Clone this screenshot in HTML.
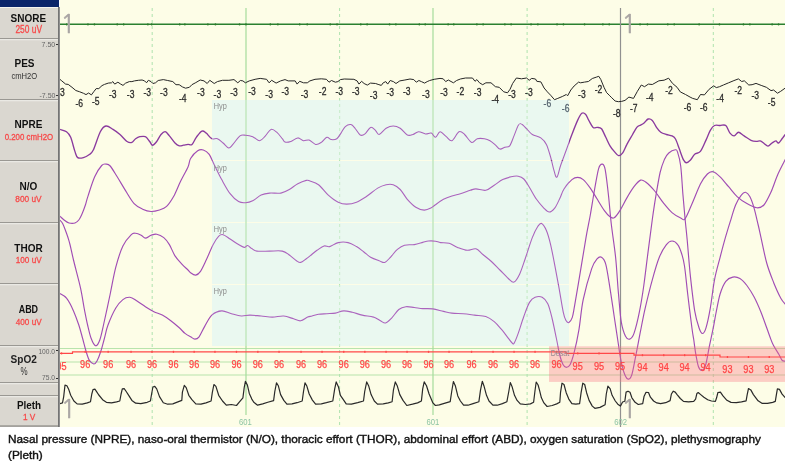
<!DOCTYPE html>
<html><head><meta charset="utf-8"><title>PSG</title><style>
html,body{margin:0;padding:0;background:#fff;}
body{width:785px;height:461px;overflow:hidden;position:relative;font-family:"Liberation Sans",Arial,sans-serif;}
svg{position:absolute;left:0;top:0;}
.cap{position:absolute;left:8px;top:432px;-webkit-text-stroke:0.4px #111;width:780px;font-family:"Liberation Sans",Arial,sans-serif;font-size:11.8px;line-height:15.5px;color:#111;white-space:nowrap;}
.cap span{display:block;}
</style></head><body>
<svg width="785" height="461" viewBox="0 0 785 461">
<defs><clipPath id="ch"><rect x="60" y="0" width="725" height="427"/></clipPath>
<clipPath id="hin"><rect x="212" y="100" width="357" height="60"/><rect x="212" y="161" width="357" height="61"/><rect x="212" y="223" width="357" height="61"/><rect x="212" y="285" width="357" height="61"/></clipPath>
<clipPath id="hout"><path clip-rule="evenodd" d="M60,0H785V427H60Z M212,100H569V160H212Z M212,161H569V222H212Z M212,223H569V284H212Z M212,285H569V346H212Z"/></clipPath>
</defs>
<rect x="0" y="0" width="58" height="426" fill="#dad7d0"/>
<rect x="0" y="0" width="59" height="7" fill="#0a246a"/>
<rect x="0" y="7" width="58" height="1" fill="#f4f3ef"/>
<rect x="0" y="38" width="58" height="1.2" fill="#9a9893"/>
<rect x="0" y="39.2" width="58" height="1" fill="#f2f1ed"/>
<rect x="0" y="99" width="58" height="1.2" fill="#9a9893"/>
<rect x="0" y="100.2" width="58" height="1" fill="#f2f1ed"/>
<rect x="0" y="160" width="58" height="1.2" fill="#9a9893"/>
<rect x="0" y="161.2" width="58" height="1" fill="#f2f1ed"/>
<rect x="0" y="222" width="58" height="1.2" fill="#9a9893"/>
<rect x="0" y="223.2" width="58" height="1" fill="#f2f1ed"/>
<rect x="0" y="283" width="58" height="1.2" fill="#9a9893"/>
<rect x="0" y="284.2" width="58" height="1" fill="#f2f1ed"/>
<rect x="0" y="345" width="58" height="1.2" fill="#9a9893"/>
<rect x="0" y="346.2" width="58" height="1" fill="#f2f1ed"/>
<rect x="0" y="382" width="58" height="1.2" fill="#9a9893"/>
<rect x="0" y="383.2" width="58" height="1" fill="#f2f1ed"/>
<rect x="0" y="395" width="58" height="1.2" fill="#9a9893"/>
<rect x="0" y="396.2" width="58" height="1" fill="#f2f1ed"/>
<rect x="0" y="425.4" width="58" height="1.4" fill="#8e8c87"/>
<rect x="58" y="7" width="1.8" height="420" fill="#747474"/>
<text x="28.4" y="21.7" font-size="10" font-weight="bold" fill="#111" text-anchor="middle">SNORE</text>
<text x="28.7" y="33.4" font-size="10.5" font-weight="normal" fill="#f84848" text-anchor="middle" textLength="26.6" lengthAdjust="spacingAndGlyphs" stroke="#f84848" stroke-width="0.3">250 uV</text>
<text x="24.5" y="67.4" font-size="10" font-weight="bold" fill="#111" text-anchor="middle">PES</text>
<text x="24.3" y="78.9" font-size="9" font-weight="normal" fill="#333" text-anchor="middle" textLength="25.8" lengthAdjust="spacingAndGlyphs">cmH2O</text>
<text x="55.2" y="47" font-size="8" font-weight="normal" fill="#666" text-anchor="end" textLength="13.6" lengthAdjust="spacingAndGlyphs">7.50</text>
<text x="55.5" y="97.6" font-size="8" font-weight="normal" fill="#666" text-anchor="end" textLength="16" lengthAdjust="spacingAndGlyphs">-7.50</text>
<text x="28.5" y="128.2" font-size="10" font-weight="bold" fill="#111" text-anchor="middle">NPRE</text>
<text x="28.9" y="140.2" font-size="9.5" font-weight="normal" fill="#f84848" text-anchor="middle" textLength="48.5" lengthAdjust="spacingAndGlyphs" stroke="#f84848" stroke-width="0.3">0.200 cmH2O</text>
<text x="28.3" y="190.2" font-size="10" font-weight="bold" fill="#111" text-anchor="middle">N/O</text>
<text x="28.5" y="201.6" font-size="9.5" font-weight="normal" fill="#f84848" text-anchor="middle" textLength="26.3" lengthAdjust="spacingAndGlyphs" stroke="#f84848" stroke-width="0.3">800 uV</text>
<text x="28.5" y="251.5" font-size="10" font-weight="bold" fill="#111" text-anchor="middle">THOR</text>
<text x="28.7" y="263.2" font-size="9.5" font-weight="normal" fill="#f84848" text-anchor="middle" textLength="25.9" lengthAdjust="spacingAndGlyphs" stroke="#f84848" stroke-width="0.3">100 uV</text>
<text x="28.4" y="313.1" font-size="10" font-weight="bold" fill="#111" text-anchor="middle" textLength="19.4" lengthAdjust="spacingAndGlyphs">ABD</text>
<text x="28.7" y="324.9" font-size="9.5" font-weight="normal" fill="#f84848" text-anchor="middle" textLength="25.9" lengthAdjust="spacingAndGlyphs" stroke="#f84848" stroke-width="0.3">400 uV</text>
<text x="23.7" y="362.6" font-size="10.5" font-weight="bold" fill="#222" text-anchor="middle" textLength="26.3" lengthAdjust="spacingAndGlyphs">SpO2</text>
<text x="24" y="374.6" font-size="10" font-weight="normal" fill="#333" text-anchor="middle" textLength="7.1" lengthAdjust="spacingAndGlyphs">%</text>
<text x="55" y="354" font-size="8" font-weight="normal" fill="#666" text-anchor="end" textLength="16.6" lengthAdjust="spacingAndGlyphs">100.0</text>
<text x="55" y="380" font-size="8" font-weight="normal" fill="#666" text-anchor="end" textLength="13" lengthAdjust="spacingAndGlyphs">75.0</text>
<text x="29" y="408.7" font-size="10" font-weight="bold" fill="#111" text-anchor="middle" textLength="24.2" lengthAdjust="spacingAndGlyphs">Pleth</text>
<text x="29.1" y="420.3" font-size="9.5" font-weight="normal" fill="#f84848" text-anchor="middle" textLength="12.4" lengthAdjust="spacingAndGlyphs" stroke="#f84848" stroke-width="0.3">1 V</text>
<rect x="56" y="44" width="2" height="1" fill="#333"/>
<rect x="56" y="95" width="2" height="1" fill="#333"/>
<rect x="56" y="350" width="2" height="1" fill="#333"/>
<rect x="56" y="378" width="2" height="1" fill="#333"/>
<g clip-path="url(#ch)">
<rect x="60" y="0" width="725" height="427" fill="#fdfde7"/>
<rect x="212" y="100" width="357" height="60" fill="#eaf8f0"/>
<rect x="212" y="161" width="357" height="61" fill="#eaf8f0"/>
<rect x="212" y="223" width="357" height="61" fill="#eaf8f0"/>
<rect x="212" y="285" width="357" height="61" fill="#eaf8f0"/>
<rect x="60" y="348" width="725" height="1" fill="#b8e4ac"/>
<rect x="60" y="361.5" width="725" height="1" fill="#b8e4ac"/>
<rect x="60" y="374.5" width="725" height="1" fill="#b8e4ac"/>
<line x1="152.2" y1="8" x2="152.2" y2="426" stroke="#aee3ae" stroke-width="1" stroke-dasharray="3,3"/>
<line x1="339.6" y1="8" x2="339.6" y2="426" stroke="#aee3ae" stroke-width="1" stroke-dasharray="3,3"/>
<line x1="339.6" y1="100" x2="339.6" y2="160" stroke="#eaf8f0" stroke-opacity="0.45" stroke-width="1.2"/>
<line x1="339.6" y1="161" x2="339.6" y2="222" stroke="#eaf8f0" stroke-opacity="0.45" stroke-width="1.2"/>
<line x1="339.6" y1="223" x2="339.6" y2="284" stroke="#eaf8f0" stroke-opacity="0.45" stroke-width="1.2"/>
<line x1="339.6" y1="285" x2="339.6" y2="346" stroke="#eaf8f0" stroke-opacity="0.45" stroke-width="1.2"/>
<line x1="527.1" y1="8" x2="527.1" y2="426" stroke="#aee3ae" stroke-width="1" stroke-dasharray="3,3"/>
<line x1="527.1" y1="100" x2="527.1" y2="160" stroke="#eaf8f0" stroke-opacity="0.45" stroke-width="1.2"/>
<line x1="527.1" y1="161" x2="527.1" y2="222" stroke="#eaf8f0" stroke-opacity="0.45" stroke-width="1.2"/>
<line x1="527.1" y1="223" x2="527.1" y2="284" stroke="#eaf8f0" stroke-opacity="0.45" stroke-width="1.2"/>
<line x1="527.1" y1="285" x2="527.1" y2="346" stroke="#eaf8f0" stroke-opacity="0.45" stroke-width="1.2"/>
<line x1="713.3" y1="8" x2="713.3" y2="426" stroke="#aee3ae" stroke-width="1" stroke-dasharray="3,3"/>
<line x1="246" y1="8" x2="246" y2="415" stroke="#a6dc9c" stroke-width="1.2"/>
<line x1="246" y1="100" x2="246" y2="346" stroke="#d4f0d4" stroke-width="1.2"/>
<line x1="433" y1="8" x2="433" y2="415" stroke="#a6dc9c" stroke-width="1.2"/>
<line x1="433" y1="100" x2="433" y2="346" stroke="#d4f0d4" stroke-width="1.2"/>
<line x1="60" y1="24.3" x2="785" y2="24.3" stroke="#2a8030" stroke-width="1.5"/>
<rect x="66" y="23.4" width="1.3" height="2" fill="#2a7a2a"/>
<rect x="87.3" y="23.4" width="1.3" height="2" fill="#2a7a2a"/>
<rect x="93.8" y="23.4" width="1.3" height="2" fill="#2a7a2a"/>
<rect x="116.6" y="23.4" width="1.3" height="2" fill="#2a7a2a"/>
<rect x="123" y="23.4" width="1.3" height="2" fill="#2a7a2a"/>
<rect x="147.2" y="23.4" width="1.3" height="2" fill="#2a7a2a"/>
<rect x="151" y="23.4" width="1.3" height="2" fill="#2a7a2a"/>
<rect x="179" y="23.4" width="1.3" height="2" fill="#2a7a2a"/>
<rect x="184.2" y="23.4" width="1.3" height="2" fill="#2a7a2a"/>
<rect x="207.2" y="23.4" width="1.3" height="2" fill="#2a7a2a"/>
<rect x="214.8" y="23.4" width="1.3" height="2" fill="#2a7a2a"/>
<rect x="238.9" y="23.4" width="1.3" height="2" fill="#2a7a2a"/>
<rect x="245.3" y="23.4" width="1.3" height="2" fill="#2a7a2a"/>
<rect x="269.7" y="23.4" width="1.3" height="2" fill="#2a7a2a"/>
<rect x="277.2" y="23.4" width="1.3" height="2" fill="#2a7a2a"/>
<rect x="299" y="23.4" width="1.3" height="2" fill="#2a7a2a"/>
<rect x="306.6" y="23.4" width="1.3" height="2" fill="#2a7a2a"/>
<rect x="329.6" y="23.4" width="1.3" height="2" fill="#2a7a2a"/>
<rect x="336.4" y="23.4" width="1.3" height="2" fill="#2a7a2a"/>
<rect x="360.1" y="23.4" width="1.3" height="2" fill="#2a7a2a"/>
<rect x="366.5" y="23.4" width="1.3" height="2" fill="#2a7a2a"/>
<rect x="388.9" y="23.4" width="1.3" height="2" fill="#2a7a2a"/>
<rect x="395.2" y="23.4" width="1.3" height="2" fill="#2a7a2a"/>
<rect x="418.7" y="23.4" width="1.3" height="2" fill="#2a7a2a"/>
<rect x="424.6" y="23.4" width="1.3" height="2" fill="#2a7a2a"/>
<rect x="447.5" y="23.4" width="1.3" height="2" fill="#2a7a2a"/>
<rect x="453.1" y="23.4" width="1.3" height="2" fill="#2a7a2a"/>
<rect x="476.2" y="23.4" width="1.3" height="2" fill="#2a7a2a"/>
<rect x="482.5" y="23.4" width="1.3" height="2" fill="#2a7a2a"/>
<rect x="504.2" y="23.4" width="1.3" height="2" fill="#2a7a2a"/>
<rect x="510.5" y="23.4" width="1.3" height="2" fill="#2a7a2a"/>
<rect x="530.4" y="23.4" width="1.3" height="2" fill="#2a7a2a"/>
<rect x="537.2" y="23.4" width="1.3" height="2" fill="#2a7a2a"/>
<rect x="556.4" y="23.4" width="1.3" height="2" fill="#2a7a2a"/>
<rect x="562.8" y="23.4" width="1.3" height="2" fill="#2a7a2a"/>
<rect x="583.9" y="23.4" width="1.3" height="2" fill="#2a7a2a"/>
<rect x="602.2" y="23.4" width="1.3" height="2" fill="#2a7a2a"/>
<rect x="608.6" y="23.4" width="1.3" height="2" fill="#2a7a2a"/>
<rect x="639.4" y="23.4" width="1.3" height="2" fill="#2a7a2a"/>
<rect x="646.8" y="23.4" width="1.3" height="2" fill="#2a7a2a"/>
<rect x="667.1" y="23.4" width="1.3" height="2" fill="#2a7a2a"/>
<rect x="673.6" y="23.4" width="1.3" height="2" fill="#2a7a2a"/>
<rect x="698.5" y="23.4" width="1.3" height="2" fill="#2a7a2a"/>
<rect x="718.8" y="23.4" width="1.3" height="2" fill="#2a7a2a"/>
<rect x="742.8" y="23.4" width="1.3" height="2" fill="#2a7a2a"/>
<rect x="749.2" y="23.4" width="1.3" height="2" fill="#2a7a2a"/>
<rect x="771.5" y="23.4" width="1.3" height="2" fill="#2a7a2a"/>
<rect x="777.9" y="23.4" width="1.3" height="2" fill="#2a7a2a"/>
<text x="68.2" y="32.6" font-family="NanumGothic, 'Liberation Sans', sans-serif" font-size="25" font-weight="normal" fill="#aaa6a4" stroke="#aaa6a4" stroke-width="0.5" text-anchor="middle">1</text>
<text x="629.2" y="32.8" font-family="NanumGothic, 'Liberation Sans', sans-serif" font-size="25" font-weight="normal" fill="#aaa6a4" stroke="#aaa6a4" stroke-width="0.5" text-anchor="middle">1</text>
<text x="68.4" y="418" font-family="NanumGothic, 'Liberation Sans', sans-serif" font-size="25" font-weight="normal" fill="#aaa6a4" stroke="#aaa6a4" stroke-width="0.5" text-anchor="middle">1</text>
<text x="629" y="417.7" font-family="NanumGothic, 'Liberation Sans', sans-serif" font-size="25" font-weight="normal" fill="#aaa6a4" stroke="#aaa6a4" stroke-width="0.5" text-anchor="middle">1</text>
<line x1="620.5" y1="8" x2="620.5" y2="427" stroke="#909090" stroke-width="1.2"/>
<polyline points="59.9,79.3 61.8,80.9 65.6,84.1 68.2,84.4 72,87.3 75.8,90.5 79.7,91.8 83.5,93.3 86,94.6 88.6,93 91.4,94.9 93.7,91.8 96.2,88.6 98.8,88.6 102,85.6 104.5,84.4 108.3,83.1 111.5,82.8 112.8,81.6 114.7,84.1 117.9,82.2 120.4,83.9 123,85.4 125.5,83.2 129.3,81.6 131.9,81.6 134.4,80.9 138.3,80.3 142.1,80 144.6,80.9 146.5,82.8 148.4,80.3 151,81.6 152.9,83.5 155.5,82.8 158.2,80.5 163.3,79.6 167.7,80.5 172.8,81.6 176,84.7 179.2,84.7 182.4,86.9 185.6,88.2 189.4,87.3 191.9,84.7 195.8,82.6 200.2,80 204,80.9 207.2,83.5 209.8,80.3 214.2,83.5 217.4,81.6 222.5,80.3 228.9,80.3 234,79.6 237.8,82.8 240.4,80.5 242.9,80.9 245.4,82.8 249.3,80.9 255.1,79.3 260.2,78.4 266.6,79.3 269.1,82.8 271.7,80.3 276.1,83.1 280.6,80.9 285,79.6 288.2,80.9 295.2,80.9 297.1,84.1 299.7,81.3 303.5,82.8 307.3,82.8 309.9,80.9 315,79.3 321.3,78.8 326.4,79.3 329,82.2 331.5,80.5 335.4,82.2 337.9,81.6 340.4,79.6 344.3,79 353.9,79.3 357.1,80.9 359,84.1 361.6,81.3 364.1,83.5 367.3,85.1 370.5,83.1 375.6,83.5 378.1,84.4 381.3,85.4 383.2,82.8 385.8,81.6 387.7,84.1 390.2,80.5 393.4,81.6 396,83.5 399.8,80.9 404.9,80 410,79 413.8,79.6 416.3,82.2 418.9,80.5 421.4,81.6 424.6,83.1 427.2,81.6 429.7,80.5 434.2,79.3 440,78.4 443.2,78.8 445.7,81.6 448.3,80 453.4,82.8 456.6,80.5 460.4,79 465.5,78 472.5,78 475,81.3 476.9,79.6 479.5,82.8 482.7,84.7 485.9,82.8 491,82.8 495.4,86.7 499.2,87.3 503.7,91.8 507.5,92.8 510.1,89.2 512.6,83.5 516.4,78 521.5,78.8 526.6,78 529.2,80.3 531.7,78.4 535.5,79 536.8,81.3 540.9,81.9 544.1,88 547.4,91.9 550.6,95.2 554.5,99.7 557.8,98.4 562.3,96.5 566.3,94.5 567.6,95.8 570.8,90 574.1,86 578.6,82.1 580.6,82.8 584.5,82.1 588.4,81.5 592.3,78.5 596.2,77.2 598.8,76.3 600.8,79.5 604,87.3 606.6,92.6 609.2,95.2 611.8,97.8 615.1,101 618.3,101.7 621.6,101.4 625,100.4 628.9,97.1 633.5,98.4 637.4,91.3 641.3,85 644.5,86.7 648.4,84.1 652.3,84.5 658.9,80.8 664.1,80.2 668.6,78.2 672.5,83.4 677.1,87.3 680.3,91.9 685.5,94.5 690.1,97.1 692.7,98.4 697.3,99.7 700.5,94.5 704.4,94.9 709.1,89.3 713.7,85.8 716.3,87.6 719.5,86.7 723.4,85 728.6,82.8 733.9,80.6 738.4,78.9 741.7,81.5 744.3,80.8 748.8,85 752.1,84.7 756,83.4 761.2,85.4 766.4,87.3 771,90.6 773.6,90 777.5,93.2 780.7,91.3 786,87.5" fill="none" stroke="#262626" stroke-width="1" stroke-linejoin="round"/>
<text x="61" y="95.7" font-size="10.5" fill="#2a2a2a" stroke="#2a2a2a" stroke-width="0.3" text-anchor="middle" textLength="7.6" lengthAdjust="spacingAndGlyphs">-3</text>
<text x="79.3" y="106.5" font-size="10.5" fill="#2a2a2a" stroke="#2a2a2a" stroke-width="0.3" text-anchor="middle" textLength="7.6" lengthAdjust="spacingAndGlyphs">-6</text>
<text x="95.8" y="105.2" font-size="10.5" fill="#2a2a2a" stroke="#2a2a2a" stroke-width="0.3" text-anchor="middle" textLength="7.6" lengthAdjust="spacingAndGlyphs">-5</text>
<text x="112.8" y="98.2" font-size="10.5" fill="#2a2a2a" stroke="#2a2a2a" stroke-width="0.3" text-anchor="middle" textLength="7.6" lengthAdjust="spacingAndGlyphs">-3</text>
<text x="130.6" y="97.5" font-size="10.5" fill="#2a2a2a" stroke="#2a2a2a" stroke-width="0.3" text-anchor="middle" textLength="7.6" lengthAdjust="spacingAndGlyphs">-3</text>
<text x="147.2" y="96.3" font-size="10.5" fill="#2a2a2a" stroke="#2a2a2a" stroke-width="0.3" text-anchor="middle" textLength="7.6" lengthAdjust="spacingAndGlyphs">-3</text>
<text x="163.9" y="96.3" font-size="10.5" fill="#2a2a2a" stroke="#2a2a2a" stroke-width="0.3" text-anchor="middle" textLength="7.6" lengthAdjust="spacingAndGlyphs">-3</text>
<text x="182.7" y="102" font-size="10.5" fill="#2a2a2a" stroke="#2a2a2a" stroke-width="0.3" text-anchor="middle" textLength="7.6" lengthAdjust="spacingAndGlyphs">-4</text>
<text x="200.9" y="95.6" font-size="10.5" fill="#2a2a2a" stroke="#2a2a2a" stroke-width="0.3" text-anchor="middle" textLength="7.6" lengthAdjust="spacingAndGlyphs">-3</text>
<text x="217.4" y="97.5" font-size="10.5" fill="#2a2a2a" stroke="#2a2a2a" stroke-width="0.3" text-anchor="middle" textLength="7.6" lengthAdjust="spacingAndGlyphs">-3</text>
<text x="234" y="96.3" font-size="10.5" fill="#2a2a2a" stroke="#2a2a2a" stroke-width="0.3" text-anchor="middle" textLength="7.6" lengthAdjust="spacingAndGlyphs">-3</text>
<text x="252" y="95.2" font-size="10.5" fill="#2a2a2a" stroke="#2a2a2a" stroke-width="0.3" text-anchor="middle" textLength="7.6" lengthAdjust="spacingAndGlyphs">-3</text>
<text x="269.1" y="98.2" font-size="10.5" fill="#2a2a2a" stroke="#2a2a2a" stroke-width="0.3" text-anchor="middle" textLength="7.6" lengthAdjust="spacingAndGlyphs">-3</text>
<text x="285.3" y="95.4" font-size="10.5" fill="#2a2a2a" stroke="#2a2a2a" stroke-width="0.3" text-anchor="middle" textLength="7.6" lengthAdjust="spacingAndGlyphs">-3</text>
<text x="304.5" y="98.2" font-size="10.5" fill="#2a2a2a" stroke="#2a2a2a" stroke-width="0.3" text-anchor="middle" textLength="7.6" lengthAdjust="spacingAndGlyphs">-3</text>
<text x="322.6" y="94.6" font-size="10.5" fill="#2a2a2a" stroke="#2a2a2a" stroke-width="0.3" text-anchor="middle" textLength="7.6" lengthAdjust="spacingAndGlyphs">-2</text>
<text x="339.2" y="95.4" font-size="10.5" fill="#2a2a2a" stroke="#2a2a2a" stroke-width="0.3" text-anchor="middle" textLength="7.6" lengthAdjust="spacingAndGlyphs">-3</text>
<text x="355.8" y="95.4" font-size="10.5" fill="#2a2a2a" stroke="#2a2a2a" stroke-width="0.3" text-anchor="middle" textLength="7.6" lengthAdjust="spacingAndGlyphs">-3</text>
<text x="373.6" y="98.8" font-size="10.5" fill="#2a2a2a" stroke="#2a2a2a" stroke-width="0.3" text-anchor="middle" textLength="7.6" lengthAdjust="spacingAndGlyphs">-3</text>
<text x="390.2" y="96.3" font-size="10.5" fill="#2a2a2a" stroke="#2a2a2a" stroke-width="0.3" text-anchor="middle" textLength="7.6" lengthAdjust="spacingAndGlyphs">-3</text>
<text x="406.8" y="95.4" font-size="10.5" fill="#2a2a2a" stroke="#2a2a2a" stroke-width="0.3" text-anchor="middle" textLength="7.6" lengthAdjust="spacingAndGlyphs">-3</text>
<text x="425.9" y="98.2" font-size="10.5" fill="#2a2a2a" stroke="#2a2a2a" stroke-width="0.3" text-anchor="middle" textLength="7.6" lengthAdjust="spacingAndGlyphs">-3</text>
<text x="444" y="95.6" font-size="10.5" fill="#2a2a2a" stroke="#2a2a2a" stroke-width="0.3" text-anchor="middle" textLength="7.6" lengthAdjust="spacingAndGlyphs">-3</text>
<text x="460.4" y="95" font-size="10.5" fill="#2a2a2a" stroke="#2a2a2a" stroke-width="0.3" text-anchor="middle" textLength="7.6" lengthAdjust="spacingAndGlyphs">-2</text>
<text x="477.6" y="95.6" font-size="10.5" fill="#2a2a2a" stroke="#2a2a2a" stroke-width="0.3" text-anchor="middle" textLength="7.6" lengthAdjust="spacingAndGlyphs">-3</text>
<text x="495.2" y="102.6" font-size="10.5" fill="#2a2a2a" stroke="#2a2a2a" stroke-width="0.3" text-anchor="middle" textLength="7.6" lengthAdjust="spacingAndGlyphs">-4</text>
<text x="512" y="98.2" font-size="10.5" fill="#2a2a2a" stroke="#2a2a2a" stroke-width="0.3" text-anchor="middle" textLength="7.6" lengthAdjust="spacingAndGlyphs">-3</text>
<text x="528.9" y="95.6" font-size="10.5" fill="#2a2a2a" stroke="#2a2a2a" stroke-width="0.3" text-anchor="middle" textLength="7.6" lengthAdjust="spacingAndGlyphs">-3</text>
<text x="547.4" y="107.4" font-size="10.5" fill="#55636e" stroke="#55636e" stroke-width="0.3" text-anchor="middle" textLength="7.6" lengthAdjust="spacingAndGlyphs">-6</text>
<text x="565.6" y="112" font-size="10.5" fill="#55636e" stroke="#55636e" stroke-width="0.3" text-anchor="middle" textLength="7.6" lengthAdjust="spacingAndGlyphs">-6</text>
<text x="581.9" y="98.3" font-size="10.5" fill="#2a2a2a" stroke="#2a2a2a" stroke-width="0.3" text-anchor="middle" textLength="7.6" lengthAdjust="spacingAndGlyphs">-3</text>
<text x="598.5" y="93.1" font-size="10.5" fill="#2a2a2a" stroke="#2a2a2a" stroke-width="0.3" text-anchor="middle" textLength="7.6" lengthAdjust="spacingAndGlyphs">-2</text>
<text x="616.7" y="116.5" font-size="10.5" fill="#2a2a2a" stroke="#2a2a2a" stroke-width="0.3" text-anchor="middle" textLength="7.6" lengthAdjust="spacingAndGlyphs">-8</text>
<text x="633.8" y="112" font-size="10.5" fill="#2a2a2a" stroke="#2a2a2a" stroke-width="0.3" text-anchor="middle" textLength="7.6" lengthAdjust="spacingAndGlyphs">-7</text>
<text x="649.7" y="100.9" font-size="10.5" fill="#2a2a2a" stroke="#2a2a2a" stroke-width="0.3" text-anchor="middle" textLength="7.6" lengthAdjust="spacingAndGlyphs">-4</text>
<text x="669" y="94.4" font-size="10.5" fill="#2a2a2a" stroke="#2a2a2a" stroke-width="0.3" text-anchor="middle" textLength="7.6" lengthAdjust="spacingAndGlyphs">-2</text>
<text x="687.5" y="111.3" font-size="10.5" fill="#2a2a2a" stroke="#2a2a2a" stroke-width="0.3" text-anchor="middle" textLength="7.6" lengthAdjust="spacingAndGlyphs">-6</text>
<text x="703.8" y="110.7" font-size="10.5" fill="#2a2a2a" stroke="#2a2a2a" stroke-width="0.3" text-anchor="middle" textLength="7.6" lengthAdjust="spacingAndGlyphs">-6</text>
<text x="720.1" y="101.9" font-size="10.5" fill="#2a2a2a" stroke="#2a2a2a" stroke-width="0.3" text-anchor="middle" textLength="7.6" lengthAdjust="spacingAndGlyphs">-4</text>
<text x="738.2" y="94.4" font-size="10.5" fill="#2a2a2a" stroke="#2a2a2a" stroke-width="0.3" text-anchor="middle" textLength="7.6" lengthAdjust="spacingAndGlyphs">-2</text>
<text x="755.3" y="99" font-size="10.5" fill="#2a2a2a" stroke="#2a2a2a" stroke-width="0.3" text-anchor="middle" textLength="7.6" lengthAdjust="spacingAndGlyphs">-3</text>
<text x="771.6" y="105.5" font-size="10.5" fill="#2a2a2a" stroke="#2a2a2a" stroke-width="0.3" text-anchor="middle" textLength="7.6" lengthAdjust="spacingAndGlyphs">-5</text>
<g clip-path="url(#hout)">
<path d="M60,129.4 C61.1,129.8 64.7,130.4 66.5,131.7 C68.3,133 69.3,134 70.7,137.3 C72.1,140.6 73.7,148 74.9,151.4 C76.1,154.8 76.3,156.6 77.7,157.6 C79.1,158.6 81.5,158.1 83.4,157.6 C85.3,157.1 87.3,156.1 89,154.8 C90.7,153.5 91.4,153.8 93.3,150 C95.2,146.2 98.2,135.7 100.3,131.7 C102.4,127.7 103.9,126.4 106,126 C108.1,125.6 110.7,128 113,129.4 C115.3,130.8 117.7,132.5 120,134.5 C122.3,136.5 125,140.2 127,141.5 C129,142.8 130.5,142.9 131.9,142.4 C133.3,141.9 134.3,139.6 135.6,138.7 C136.9,137.8 138.2,137 139.8,136.7 C141.4,136.4 143.8,135.9 145.4,136.7 C147.1,137.5 148.5,140.1 149.7,141.5 C150.9,142.9 151.3,145.2 152.5,145.2 C153.7,145.2 155.3,143.3 156.7,141.5 C158.1,139.7 159.6,136.1 161,134.5 C162.4,132.9 163.8,131.5 165.2,131.7 C166.6,131.9 167.8,134 169.4,135.9 C171,137.8 173.3,141.3 175,143 C176.7,144.7 177.9,145.4 179.3,145.8 C180.7,146.2 182.1,145.4 183.5,145.2 C184.9,145 186.6,144.5 188,144.4 C189.4,144.3 190.6,145.6 192,144.4 C193.4,143.2 194.7,139.5 196.3,137.3 C198,135.1 200.2,131.8 201.9,131.1 C203.6,130.4 204.5,131.8 206.2,133.1 C207.8,134.4 209.9,137.8 211.8,138.7 C213.7,139.6 215.5,138 217.4,138.7 C219.3,139.4 221.2,141.4 223.1,143 C225,144.6 227.1,147.8 228.7,148 C230.3,148.2 231,146.4 232.9,144.4 C234.8,142.4 237.9,137.4 240,135.9 C242.1,134.4 243.5,135.2 245.6,135.3 C247.7,135.4 250.3,135.8 252.7,136.7 C255,137.6 257.6,140.8 259.7,140.7 C261.8,140.6 263.5,137.8 265.4,135.9 C267.3,134 269.1,130 271,129.4 C272.9,128.8 274.8,130.6 276.7,132.2 C278.6,133.8 280.9,137 282.3,138.7 C283.7,140.3 283.7,141.6 285.1,142.1 C286.5,142.6 288.7,142.2 290.8,141.5 C292.9,140.8 295.7,138 297.8,137.9 C299.9,137.8 301.5,140.3 303.4,140.7 C305.3,141.1 307.1,139.5 309.1,140.1 C311.1,140.7 313.6,144 315.6,144.4 C317.6,144.8 319.4,143.6 321.3,142.4 C323.2,141.2 325.2,137.8 326.9,137.3 C328.5,136.8 329.5,139.4 331.2,139.6 C332.9,139.8 335.2,139.8 336.8,138.7 C338.4,137.6 339.6,135.1 341,133.1 C342.4,131.1 343.7,128 345.3,126.6 C346.9,125.2 349.3,124.3 350.9,124.6 C352.5,124.9 353.6,126.6 355.1,128.3 C356.7,130 358.6,134.1 360.2,135 C361.8,135.9 363.3,135.2 365,133.9 C366.7,132.6 368.9,128 370.6,127.4 C372.3,126.8 374,129.1 375.4,130.3 C376.8,131.5 377.3,134.8 379.1,134.5 C380.9,134.2 383.8,129.7 386.1,128.3 C388.5,126.9 390.9,126 393.2,126 C395.5,126 397.8,126.8 400.2,128.3 C402.6,129.8 405.2,134 407.3,135 C409.4,136 411,135.1 412.9,134.5 C414.8,133.9 416.5,131.8 418.6,131.7 C420.7,131.6 423.5,133.7 425.6,133.9 C427.7,134.1 429.7,132.5 431.3,133.1 C432.9,133.7 434,137.5 435.5,137.3 C437,137.1 438.3,131.8 440.1,131.7 C441.9,131.6 444.3,135.2 446.3,136.7 C448.3,138.2 449.8,141.5 451.9,140.7 C454,139.9 456.9,132.7 459,131.7 C461.1,130.7 462.5,132.7 464.6,134.5 C466.7,136.3 469.6,141.7 471.7,142.4 C473.8,143.1 475.2,139.3 477.3,138.7 C479.4,138.1 482.3,138.4 484.4,138.7 C486.5,139 488.1,139.6 490,140.7 C491.9,141.8 494,143.8 495.6,145.2 C497.2,146.6 498.3,148.8 499.9,149.1 C501.4,149.4 503.3,147.8 504.9,147.2 C506.5,146.6 508.2,147.7 509.7,145.8 C511.2,143.9 512.6,139.3 514,135.9 C515.4,132.5 517,127.5 518.2,125.5 C519.4,123.5 519.6,123.2 521,123.8 C522.4,124.3 524.8,127 526.7,128.8 C528.6,130.6 529.9,133 532.3,134.5 C534.6,136 538.4,136.2 540.8,137.9 C543.1,139.6 544.8,141.2 546.4,144.4 C548,147.6 549.4,153 550.6,157 C551.8,161 552.4,164.9 553.4,168.3 C554.4,171.7 555.6,177.8 556.8,177.3 C558,176.8 559,170.1 560.6,165.5 C562.2,160.9 564.4,155.2 566.3,150 C568.2,144.8 570,139.4 571.9,134.5 C573.8,129.6 576,123.9 577.6,120.4 C579.2,116.9 580.5,114.3 581.8,113.3 C583.1,112.3 584.3,113 585.5,114.2 C586.7,115.4 587.5,118.2 588.8,120.4 C590.1,122.6 591.7,126.2 593.1,127.4 C594.5,128.6 595.9,127.2 597.3,127.4 C598.7,127.6 600.1,127.2 601.5,128.8 C602.9,130.5 604.4,134.5 605.8,137.3 C607.2,140.1 608.6,143.5 610,145.8 C611.4,148.2 612.8,149.8 614.2,151.4 C615.6,153 617.1,155.4 618.5,155.6 C619.9,155.8 621.3,154.7 622.7,152.8 C624.1,150.9 625.2,147.5 626.9,144.4 C628.5,141.3 631,137.3 632.6,134.5 C634.2,131.7 635.6,128.9 636.8,127.4 C638,125.9 638.4,126.2 639.6,125.5 C640.8,124.8 642.4,124.3 643.8,123.2 C645.2,122.1 646.7,119.5 648.1,119 C649.5,118.5 650.9,119 652.3,120.4 C653.7,121.8 655.1,125.4 656.5,127.4 C657.9,129.4 659.1,131 660.8,132.2 C662.4,133.4 664.5,133.9 666.4,134.5 C668.3,135.1 670.5,135.2 672,135.9 C673.5,136.7 674.3,136.9 675.5,139 C676.7,141.1 677.9,145.1 679.2,148.6 C680.5,152.1 682.3,157.6 683.5,159.9 C684.7,162.2 685.1,162.7 686.3,162.7 C687.5,162.7 689.1,161.3 690.5,159.9 C691.9,158.5 693.1,155.6 694.7,154.2 C696.4,152.8 698.5,153.8 700.4,151.4 C702.3,149.1 704.4,143.6 706,140.1 C707.6,136.6 708.9,132.7 710.3,130.3 C711.7,127.9 712.9,126.3 714.5,125.5 C716.1,124.7 718.2,125.5 720.1,125.5 C722,125.5 724.1,124.2 725.8,125.5 C727.4,126.8 728.6,131.4 730,133.1 C731.4,134.8 732.8,136.1 734.2,135.9 C735.6,135.8 736.9,132.2 738.5,132.2 C740.1,132.2 742,134.6 744.1,135.9 C746.2,137.2 749,139.4 751,140.3 C753,141.2 754.8,141.3 756.3,141.4 C757.8,141.5 758.9,140.6 760.2,140.9 C761.5,141.2 762.8,142.6 764.1,143.5 C765.4,144.4 766.7,146.2 768,146.1 C769.3,146 770.7,143.9 772,143 C773.3,142.1 774.8,140.9 775.9,140.9 C777,140.9 777.4,143.4 778.5,143 C779.6,142.6 781.1,139.9 782.4,138.3 C783.6,136.7 785.4,134.3 786,133.5" fill="none" stroke="#8a3a9e" stroke-width="1.35" stroke-linejoin="round"/>
<path d="M59.8,216.1 C60.6,216.8 63.2,219.3 64.7,220.5 C66.2,221.7 67.3,222.6 69,223 C70.7,223.4 73.4,223.5 75,223 C76.6,222.5 77.6,221.5 78.8,220 C80,218.5 80.9,216.4 82,214 C83.1,211.6 84.3,208.3 85.3,205.3 C86.3,202.3 86.4,200.8 88,196.1 C89.6,191.3 92.4,181.9 94.7,176.8 C97,171.7 99.8,167.6 101.7,165.5 C103.6,163.4 104.6,164 106,164.1 C107.4,164.2 108.3,163.9 110.2,166 C112.1,168.1 114.6,172.7 117.2,176.8 C119.8,181 122.9,186.4 125.7,190.9 C128.5,195.4 131.3,200.6 134.1,203.6 C136.9,206.6 139.8,207.9 142.6,209.2 C145.4,210.5 148.2,211.4 151,211.5 C153.8,211.6 156.9,210.8 159.5,210 C162.1,209.2 164.2,208.7 166.6,206.4 C168.9,204.2 171.2,200.7 173.6,196.5 C175.9,192.3 178.3,185.9 180.7,181 C183.1,176.1 186.3,170.7 188,166.9 C189.7,163.2 189,161.2 190.6,158.5 C192.2,155.8 195.6,152.2 197.7,150.8 C199.8,149.4 201.4,149.4 203.3,150 C205.2,150.6 207.1,151.6 209,154.2 C210.9,156.8 212.5,161.3 214.6,165.5 C216.7,169.7 219.1,174.9 221.7,179.6 C224.3,184.3 227.3,190 230.1,193.7 C232.9,197.4 236,200.1 238.6,201.6 C241.2,203.1 243.2,202.8 245.6,202.7 C247.9,202.6 250.1,202.1 252.7,200.8 C255.3,199.5 258.3,196.4 261.1,195.1 C263.9,193.8 266.3,193.4 269.6,193.1 C272.9,192.8 277.6,193.7 280.9,193.1 C284.2,192.5 286.5,191.1 289.3,189.5 C292.1,187.9 295,185.3 297.8,183.8 C300.6,182.3 304.3,180.9 306.3,180.4 C308.3,179.9 308,180.3 310,181 C312,181.7 315.4,182.3 318.5,184.7 C321.6,187 325,192.2 328.3,195.1 C331.6,198 335.1,200.7 338.2,202.2 C341.3,203.7 343.6,204.1 346.7,204.1 C349.8,204.1 353.2,203.5 356.5,202.2 C359.8,200.9 362.9,198.8 366.4,196.5 C369.9,194.2 374.4,190.1 377.7,188.1 C381,186.1 383.5,185.3 386.1,184.7 C388.7,184.1 390.9,183.9 393.2,184.7 C395.5,185.5 397.8,187.1 400.2,189.5 C402.6,191.9 404.7,196.4 407.3,199.3 C409.9,202.2 413,205.4 415.8,207.2 C418.6,209 421.6,210 424.2,210.1 C426.8,210.2 429.5,208.7 431.3,207.8 C433.1,207 433,206.4 435,205 C437,203.6 440.7,200.8 443.5,199.3 C446.3,197.8 449.1,196.9 451.9,196 C454.7,195.1 457.3,194.6 460.4,193.7 C463.5,192.8 467.7,191.1 470.3,190.3 C472.9,189.5 473.3,188.9 475.9,188.9 C478.5,188.9 482.8,190.9 485.8,190.3 C488.9,189.7 491.4,187 494.2,185.2 C497,183.4 499.9,181 502.7,179.6 C505.5,178.2 508.5,177.4 511.1,176.8 C513.7,176.2 516.1,175.8 518.2,176.2 C520.3,176.6 521.9,177.1 523.8,179 C525.7,180.9 527.4,184.1 529.5,187.5 C531.6,190.9 534.1,195.9 536.5,199.3 C538.9,202.7 541.5,205.7 543.6,207.8 C545.7,209.9 547.3,212 549.2,212 C551.1,212 553.1,210.1 554.9,207.8 C556.7,205.5 558.5,201.1 560,198 C561.5,194.9 562,192.1 564,189 C566,185.9 569.6,181.5 571.9,179.6 C574.2,177.7 575.7,177.3 577.6,177.3 C579.5,177.3 581.1,177.8 583.2,179.6 C585.3,181.4 587.9,184.8 590.3,188.1 C592.6,191.4 594.9,195.6 597.3,199.3 C599.6,203.1 602.3,207.7 604.4,210.6 C606.5,213.5 608.4,215.6 610,216.8 C611.6,218 612.6,218.7 614.2,217.7 C615.9,216.7 617.8,213.9 619.9,210.6 C622,207.3 624.5,201.9 626.9,197.9 C629.2,193.9 631.7,189.7 634,186.7 C636.3,183.7 638.6,180.8 640.6,180.1 C642.6,179.4 643.6,180.5 646,182.3 C648.4,184.1 651.8,187.6 654.7,191 C657.6,194.4 660.5,199.3 663.4,202.9 C666.3,206.5 669.1,210.1 672,212.6 C674.9,215.1 678.5,217 680.7,218 C682.9,219 683.2,221 685,218.8 C686.8,216.6 688.9,210.8 691.5,205 C694.1,199.2 697.8,189.2 700.4,184 C703,178.8 705.3,176.1 707.4,174 C709.5,171.9 711,171.2 713.1,171.7 C715.2,172.2 717.5,174.3 720.1,176.8 C722.7,179.3 725.8,183.4 728.6,186.7 C731.4,190 734.1,193.8 737.1,196.6 C740.1,199.4 743.6,201.7 746.9,203.6 C750.2,205.5 754,207.6 756.8,207.8 C759.6,208 761.5,207.6 763.9,205 C766.2,202.4 768.5,197.5 770.9,192.3 C773.2,187.1 775.5,179.7 778,174 C780.5,168.3 784.7,160.7 786,158" fill="none" stroke="#a04cb4" stroke-width="1.15" stroke-linejoin="round"/>
<path d="M59.8,220 C60.2,220.5 61.6,221.6 62.5,223.2 C63.4,224.8 64.3,227.3 65.2,229.7 C66.1,232 67.1,234.8 67.9,237.3 C68.7,239.9 69.2,241.2 70.1,245 C71,248.8 71.8,252.8 73.5,260 C75.2,267.2 78.8,280 80.6,288.3 C82.4,296.6 83.3,303.9 84.5,310 C85.7,316.1 86.5,320.3 87.6,325 C88.7,329.7 89.7,334.5 91,338 C92.3,341.5 94.2,345.5 95.7,345.8 C97.2,346.1 98.5,343.5 99.8,340 C101.1,336.5 101.8,332.7 103.5,325 C105.2,317.3 108.2,303.6 110.2,294 C112.2,284.4 113.7,275.2 115.8,267.2 C117.9,259.2 120.3,251.4 122.9,246 C125.5,240.6 129.2,236.8 131.3,234.7 C133.4,232.6 133.9,233.2 135.6,233.3 C137.2,233.4 139.6,234.5 141.2,235.3 C142.8,236.1 143.8,238.1 145.4,238.1 C147,238.1 149.1,236 151,235.3 C152.9,234.7 154.6,233.8 156.7,234.2 C158.8,234.6 161.7,235.9 163.8,237.6 C165.9,239.3 167.5,241.5 169.4,244.6 C171.3,247.7 172.9,252.6 175,255.9 C177.1,259.2 179.9,262 182.1,264.4 C184.3,266.8 186.6,268.6 188,270 C189.4,271.4 189.3,271.9 190.6,272.8 C191.9,273.7 194,275.3 195.7,275.1 C197.3,274.9 198.8,273.9 200.5,271.4 C202.2,268.9 204.1,264.6 206.2,260.1 C208.3,255.6 211.1,248.6 213.2,244.6 C215.3,240.6 217.2,237.8 218.8,236.2 C220.5,234.5 221.2,234.2 223.1,234.7 C225,235.2 227.5,237.3 230.1,239 C232.7,240.7 236.2,243.2 238.6,244.6 C240.9,246 242.7,247.2 244.2,247.4 C245.7,247.6 246.4,245.3 247.6,245.5 C248.8,245.7 249.8,247.4 251.3,248.3 C252.9,249.2 253.8,250.6 256.9,251.1 C259.9,251.6 265.4,251.1 269.6,251.1 C273.8,251.1 279,250.4 282.3,251.1 C285.6,251.8 287,253.4 289.3,255 C291.6,256.6 294.5,259.5 296.4,260.7 C298.3,261.9 299,262.7 300.6,262.4 C302.2,262.1 304.7,259.8 306.3,258.7 C307.9,257.6 308.2,257.3 310,255.9 C311.8,254.5 314.6,252 317,250.3 C319.4,248.7 322,246.6 324.1,246 C326.2,245.4 327.4,247.2 329.7,246.6 C332,246 335.1,243.3 338.2,242.6 C341.3,241.9 345.1,241.9 348.1,242.6 C351.2,243.3 353.9,245.1 356.5,246.6 C359.1,248.1 361.2,249.9 363.6,251.7 C366,253.5 368,255.8 370.6,257.3 C373.2,258.8 376.8,259.9 379.1,260.7 C381.5,261.5 382.8,263 384.7,262.4 C386.6,261.8 388.3,259.5 390.4,257.3 C392.5,255.1 395,251.4 397.4,249.4 C399.8,247.4 401.7,246 404.5,245.2 C407.3,244.4 411.2,245.1 414.3,244.6 C417.4,244.1 420.5,243 422.8,242.4 C425.1,241.8 426.3,241.2 428.4,241 C430.5,240.8 433.5,240.9 435.5,241.2 C437.5,241.5 438.3,242.3 440.6,242.6 C442.9,242.9 446.3,242.4 449.1,243.2 C451.9,244 454.6,246.2 457.6,247.4 C460.7,248.6 464.3,250.1 467.4,250.3 C470.4,250.5 473.3,248.1 475.9,248.8 C478.5,249.5 480.3,252.4 482.9,254.5 C485.5,256.6 488.6,258.9 491.4,261.5 C494.2,264.1 497.1,267.2 499.9,270 C502.7,272.8 505.9,276.5 508.3,278.5 C510.7,280.5 512.1,282.8 514,282.1 C515.9,281.4 517.7,278.1 519.6,274.2 C521.5,270.3 523.1,264.8 525.2,258.7 C527.3,252.6 530.2,243 532.3,237.6 C534.4,232.2 536.3,228.7 537.9,226.3 C539.5,224 540.2,222.8 541.6,223.5 C543,224.2 544.9,227 546.4,230.5 C547.9,234 549.2,238.7 550.6,244.6 C552,250.5 553.5,258.5 554.9,265.8 C556.3,273.1 557.7,280.6 559.1,288.3 C560.5,296.1 562.1,306.9 563.3,312.3 C564.4,317.7 565.1,318.8 566,320.5 C566.9,322.2 567.9,322.9 568.9,322.4 C569.9,321.9 571.2,320.5 572.2,317.6 C573.2,314.7 573.3,312.9 574.7,305.2 C576.1,297.5 578.5,282.7 580.4,271.4 C582.3,260.1 584.4,247 586,237.6 C587.6,228.2 588.9,222.9 590.3,215 C591.7,207.1 593.1,197.8 594.5,190 C595.9,182.2 597.4,172.6 598.7,168.3 C600,164 601.3,163.9 602.4,164.1 C603.5,164.3 604.2,164.3 605.2,169.7 C606.2,175.1 607.6,187.3 608.6,196.5 C609.6,205.7 610.2,214.9 611.4,225 C612.6,235.1 614.4,245.8 615.6,257.3 C616.8,268.8 617.5,283.2 618.5,294 C619.5,304.8 620.1,315.1 621.3,322.2 C622.5,329.2 624.1,333.5 625.5,336.3 C626.9,339.1 628.3,339.6 629.7,339.1 C631.1,338.6 632.4,338.1 634,333.4 C635.6,328.7 638,318.9 639.6,310.9 C641.2,302.9 642.4,295.4 643.8,285.5 C645.2,275.6 646.6,262.9 648.1,251.7 C649.6,240.4 651.2,227.2 652.5,218 C653.8,208.8 654.5,204 655.8,196.4 C657.1,188.8 658.7,178.7 660.1,172.5 C661.5,166.3 663,162.8 664.4,159.5 C665.8,156.2 667,154.6 668.8,153 C670.6,151.4 673.8,150 675.3,149.8 C676.8,149.6 676.6,149.2 677.5,151.9 C678.4,154.6 679.8,158.9 680.7,166 C681.6,173.1 682.2,185.5 682.9,194.2 C683.6,202.9 684.3,210.4 685,218 C685.7,225.6 686.3,230.2 687.2,240 C688.1,249.8 689.2,265.3 690.5,277.1 C691.8,288.9 693.3,302.4 694.7,310.9 C696.1,319.3 697.7,324 699,327.8 C700.3,331.6 701.2,333.5 702.4,333.5 C703.6,333.5 704.7,332 706,327.8 C707.3,323.6 708.9,316.1 710.3,308.1 C711.7,300.1 712.9,288.4 714.5,279.9 C716.1,271.4 718.2,264.6 720.1,257.3 C722,250 723.9,242.8 725.8,236.2 C727.7,229.6 729.8,223 731.4,217.8 C733,212.6 734,208.8 735.6,205 C737.2,201.2 739.6,197.2 741.3,195.1 C742.9,193 744.1,192.1 745.5,192.3 C746.9,192.6 748.4,194 749.8,196.6 C751.2,199.2 752.6,203.1 754,207.8 C755.4,212.5 757,220 758.2,225 C759.4,230 759.6,231.3 761,237.6 C762.4,243.9 764.6,255.5 766.7,263 C768.8,270.5 771.4,276.8 773.7,282.7 C776.1,288.6 778.8,294.5 780.8,298.2 C782.8,301.9 785.1,303.9 786,305" fill="none" stroke="#a04cb4" stroke-width="1.15" stroke-linejoin="round"/>
<path d="M59.5,293.4 C60.7,294.2 64.2,295.3 66.5,298.2 C68.8,301.1 71.5,306.4 73.5,310.9 C75.5,315.4 77.3,320.5 78.8,325 C80.3,329.5 81.3,333.7 82.5,338 C83.7,342.3 84.9,347.3 86,351 C87.1,354.7 87.9,357.8 89.2,360 C90.5,362.2 92.5,363.8 93.8,364 C95.1,364.2 95.8,363.2 97,361 C98.2,358.8 99.7,354.8 100.9,351 C102.2,347.2 103.3,342.3 104.5,338 C105.7,333.7 106.1,330 108,325 C109.9,320 113.3,312.2 115.8,308 C118.3,303.8 120.6,301.4 122.9,299.6 C125.2,297.8 127.6,297.1 129.9,297.3 C132.2,297.5 134.4,299.4 137,301 C139.6,302.6 142.6,304.9 145.4,306.7 C148.2,308.5 151.1,310.3 153.9,311.7 C156.7,313.1 159.5,313.6 162.3,315.1 C165.1,316.6 168,318.7 170.8,320.8 C173.6,322.9 176.9,325.7 179.3,327.8 C181.7,329.9 183.1,331.9 185,333.4 C186.9,334.9 188.9,335.9 190.6,336.8 C192.2,337.8 193.5,339.1 194.9,339.1 C196.3,339.1 197.5,338.9 199.1,336.8 C200.7,334.7 202.6,330 204.7,326.4 C206.8,322.8 209,317.7 211.8,315.1 C214.6,312.5 218.4,311.1 221.7,310.9 C225,310.7 228.2,312.8 231.5,313.7 C234.8,314.6 238.3,315.8 241.4,316 C244.5,316.2 246.6,315.1 249.9,315.1 C253.2,315.1 257.4,315.7 261.1,316 C264.9,316.3 268.6,317.1 272.4,317.1 C276.2,317.1 280.2,315.7 283.7,316 C287.2,316.3 290.8,318 293.6,318.8 C296.4,319.6 298.2,321.1 300.6,320.8 C303,320.5 305.8,317.9 307.7,317.1 C309.6,316.3 310.2,316.5 312,316 C313.8,315.5 316,314.7 318.5,314.3 C321,313.9 324.1,313.9 326.9,313.7 C329.7,313.5 332.6,313.6 335.4,313.1 C338.2,312.6 341,311 343.8,310.9 C346.6,310.8 349.2,311.6 352.3,312.3 C355.4,313 358.7,314.3 362.2,315.1 C365.7,315.9 370.4,316.2 373.5,317.1 C376.6,318.1 378.5,319.8 380.5,320.8 C382.5,321.8 383.7,323.5 385.6,323 C387.5,322.5 389.6,320.1 391.8,317.9 C394,315.6 396.5,311.4 398.8,309.5 C401.1,307.6 403.3,307 405.9,306.7 C408.5,306.4 411.5,307.2 414.3,307.5 C417.1,307.8 419.7,308.4 422.8,308.6 C425.9,308.8 429.2,308.4 432.7,308.9 C436.1,309.4 440.3,310.7 443.5,311.4 C446.7,312.1 448.6,312.7 451.9,313.1 C455.2,313.5 459.4,313.4 463.2,313.7 C467,314 470.7,314.6 474.5,315.1 C478.3,315.6 482.5,315.4 485.8,316.5 C489.1,317.6 491.6,319.5 494.2,321.6 C496.8,323.7 499.2,326.8 501.3,329.2 C503.4,331.6 505.2,334.1 506.9,336.3 C508.6,338.5 510.5,341.3 511.7,342.5 C512.9,343.7 512.9,344.8 514,343.3 C515.1,341.8 516.6,337.9 518.2,333.4 C519.8,328.9 521.9,321.7 523.8,316.5 C525.7,311.3 527.6,305.6 529.5,302.4 C531.4,299.2 533,298.1 535.1,297.3 C537.2,296.5 540.1,296.2 542.2,297.3 C544.3,298.4 546.2,300.4 547.8,303.8 C549.4,307.2 550.6,312.3 552,318 C553.4,323.7 555,331.7 556.3,338 C557.6,344.3 558.9,351.6 560,356 C561.1,360.4 562,362.6 563,364.5 C564,366.4 565.1,367.3 566.3,367.3 C567.5,367.3 568.9,366.8 570.2,364.4 C571.5,362 572.6,358.5 574.1,352.7 C575.6,346.9 577.5,338.1 579,329.3 C580.5,320.5 581.1,309.7 583.2,299.6 C585.3,289.5 589.4,275.4 591.7,268.6 C594.1,261.8 595.7,260.6 597.3,258.7 C598.9,256.8 600.1,256.4 601.5,257.3 C602.9,258.2 604.4,259.2 605.8,264.4 C607.2,269.6 608.6,279.6 610,288.3 C611.4,297 612.8,307.1 614.2,316.5 C615.6,325.9 617.5,338.1 618.5,345 C619.5,351.9 619.6,353.5 620.5,358 C621.4,362.5 622.7,368.7 623.9,372.2 C625.1,375.7 626.5,378.5 627.8,379 C629.1,379.5 630.4,378.8 631.7,375.1 C633,371.4 634.1,363.9 635.6,356.6 C637.1,349.3 638.9,339.3 640.5,331.2 C642.1,323.1 643.2,316.7 645.2,308.1 C647.2,299.6 649.9,288.4 652.3,279.9 C654.6,271.4 656.9,263.2 659.3,257.3 C661.6,251.4 664.3,247.3 666.4,244.6 C668.5,241.9 670.1,241 672,241 C673.9,241 676.1,242.3 677.7,244.6 C679.4,246.8 680.8,250.9 681.9,254.5 C683,258.1 683.5,259.4 684.5,266 C685.5,272.6 686.5,283.7 687.7,294 C688.9,304.3 690.9,320.1 691.9,327.8 C692.9,335.5 693.1,335.6 693.8,340 C694.4,344.4 695,349.8 695.8,354.2 C696.6,358.6 697.5,364 698.5,366.7 C699.5,369.4 700.9,370.6 702.1,370.3 C703.3,370 704.4,368.9 705.6,365 C706.8,361.1 707.9,353.7 709.2,347.1 C710.6,340.6 712.6,331.4 713.7,325.7 C714.8,320 714.9,318.3 716,313 C717.1,307.7 718.5,299.3 720.1,294 C721.7,288.7 723.7,284.1 725.8,281.3 C727.9,278.5 730.4,277.6 732.8,277.1 C735.1,276.6 737.5,277.1 739.9,278.5 C742.2,279.9 744.5,282.4 746.9,285.5 C749.2,288.6 751.6,292.3 754,296.8 C756.4,301.3 758.9,307.1 761,312.3 C763.1,317.5 765.2,323.7 766.7,327.8 C768.2,331.9 768.9,334.1 770,337 C771.1,339.9 771.9,342.4 773.4,345.3 C774.9,348.2 777.3,351.7 778.8,354.2 C780.3,356.7 781.1,359.4 782.3,360.5 C783.5,361.6 785.4,360.9 786,361" fill="none" stroke="#a04cb4" stroke-width="1.15" stroke-linejoin="round"/>
</g>
<g clip-path="url(#hin)">
<path d="M60,129.4 C61.1,129.8 64.7,130.4 66.5,131.7 C68.3,133 69.3,134 70.7,137.3 C72.1,140.6 73.7,148 74.9,151.4 C76.1,154.8 76.3,156.6 77.7,157.6 C79.1,158.6 81.5,158.1 83.4,157.6 C85.3,157.1 87.3,156.1 89,154.8 C90.7,153.5 91.4,153.8 93.3,150 C95.2,146.2 98.2,135.7 100.3,131.7 C102.4,127.7 103.9,126.4 106,126 C108.1,125.6 110.7,128 113,129.4 C115.3,130.8 117.7,132.5 120,134.5 C122.3,136.5 125,140.2 127,141.5 C129,142.8 130.5,142.9 131.9,142.4 C133.3,141.9 134.3,139.6 135.6,138.7 C136.9,137.8 138.2,137 139.8,136.7 C141.4,136.4 143.8,135.9 145.4,136.7 C147.1,137.5 148.5,140.1 149.7,141.5 C150.9,142.9 151.3,145.2 152.5,145.2 C153.7,145.2 155.3,143.3 156.7,141.5 C158.1,139.7 159.6,136.1 161,134.5 C162.4,132.9 163.8,131.5 165.2,131.7 C166.6,131.9 167.8,134 169.4,135.9 C171,137.8 173.3,141.3 175,143 C176.7,144.7 177.9,145.4 179.3,145.8 C180.7,146.2 182.1,145.4 183.5,145.2 C184.9,145 186.6,144.5 188,144.4 C189.4,144.3 190.6,145.6 192,144.4 C193.4,143.2 194.7,139.5 196.3,137.3 C198,135.1 200.2,131.8 201.9,131.1 C203.6,130.4 204.5,131.8 206.2,133.1 C207.8,134.4 209.9,137.8 211.8,138.7 C213.7,139.6 215.5,138 217.4,138.7 C219.3,139.4 221.2,141.4 223.1,143 C225,144.6 227.1,147.8 228.7,148 C230.3,148.2 231,146.4 232.9,144.4 C234.8,142.4 237.9,137.4 240,135.9 C242.1,134.4 243.5,135.2 245.6,135.3 C247.7,135.4 250.3,135.8 252.7,136.7 C255,137.6 257.6,140.8 259.7,140.7 C261.8,140.6 263.5,137.8 265.4,135.9 C267.3,134 269.1,130 271,129.4 C272.9,128.8 274.8,130.6 276.7,132.2 C278.6,133.8 280.9,137 282.3,138.7 C283.7,140.3 283.7,141.6 285.1,142.1 C286.5,142.6 288.7,142.2 290.8,141.5 C292.9,140.8 295.7,138 297.8,137.9 C299.9,137.8 301.5,140.3 303.4,140.7 C305.3,141.1 307.1,139.5 309.1,140.1 C311.1,140.7 313.6,144 315.6,144.4 C317.6,144.8 319.4,143.6 321.3,142.4 C323.2,141.2 325.2,137.8 326.9,137.3 C328.5,136.8 329.5,139.4 331.2,139.6 C332.9,139.8 335.2,139.8 336.8,138.7 C338.4,137.6 339.6,135.1 341,133.1 C342.4,131.1 343.7,128 345.3,126.6 C346.9,125.2 349.3,124.3 350.9,124.6 C352.5,124.9 353.6,126.6 355.1,128.3 C356.7,130 358.6,134.1 360.2,135 C361.8,135.9 363.3,135.2 365,133.9 C366.7,132.6 368.9,128 370.6,127.4 C372.3,126.8 374,129.1 375.4,130.3 C376.8,131.5 377.3,134.8 379.1,134.5 C380.9,134.2 383.8,129.7 386.1,128.3 C388.5,126.9 390.9,126 393.2,126 C395.5,126 397.8,126.8 400.2,128.3 C402.6,129.8 405.2,134 407.3,135 C409.4,136 411,135.1 412.9,134.5 C414.8,133.9 416.5,131.8 418.6,131.7 C420.7,131.6 423.5,133.7 425.6,133.9 C427.7,134.1 429.7,132.5 431.3,133.1 C432.9,133.7 434,137.5 435.5,137.3 C437,137.1 438.3,131.8 440.1,131.7 C441.9,131.6 444.3,135.2 446.3,136.7 C448.3,138.2 449.8,141.5 451.9,140.7 C454,139.9 456.9,132.7 459,131.7 C461.1,130.7 462.5,132.7 464.6,134.5 C466.7,136.3 469.6,141.7 471.7,142.4 C473.8,143.1 475.2,139.3 477.3,138.7 C479.4,138.1 482.3,138.4 484.4,138.7 C486.5,139 488.1,139.6 490,140.7 C491.9,141.8 494,143.8 495.6,145.2 C497.2,146.6 498.3,148.8 499.9,149.1 C501.4,149.4 503.3,147.8 504.9,147.2 C506.5,146.6 508.2,147.7 509.7,145.8 C511.2,143.9 512.6,139.3 514,135.9 C515.4,132.5 517,127.5 518.2,125.5 C519.4,123.5 519.6,123.2 521,123.8 C522.4,124.3 524.8,127 526.7,128.8 C528.6,130.6 529.9,133 532.3,134.5 C534.6,136 538.4,136.2 540.8,137.9 C543.1,139.6 544.8,141.2 546.4,144.4 C548,147.6 549.4,153 550.6,157 C551.8,161 552.4,164.9 553.4,168.3 C554.4,171.7 555.6,177.8 556.8,177.3 C558,176.8 559,170.1 560.6,165.5 C562.2,160.9 564.4,155.2 566.3,150 C568.2,144.8 570,139.4 571.9,134.5 C573.8,129.6 576,123.9 577.6,120.4 C579.2,116.9 580.5,114.3 581.8,113.3 C583.1,112.3 584.3,113 585.5,114.2 C586.7,115.4 587.5,118.2 588.8,120.4 C590.1,122.6 591.7,126.2 593.1,127.4 C594.5,128.6 595.9,127.2 597.3,127.4 C598.7,127.6 600.1,127.2 601.5,128.8 C602.9,130.5 604.4,134.5 605.8,137.3 C607.2,140.1 608.6,143.5 610,145.8 C611.4,148.2 612.8,149.8 614.2,151.4 C615.6,153 617.1,155.4 618.5,155.6 C619.9,155.8 621.3,154.7 622.7,152.8 C624.1,150.9 625.2,147.5 626.9,144.4 C628.5,141.3 631,137.3 632.6,134.5 C634.2,131.7 635.6,128.9 636.8,127.4 C638,125.9 638.4,126.2 639.6,125.5 C640.8,124.8 642.4,124.3 643.8,123.2 C645.2,122.1 646.7,119.5 648.1,119 C649.5,118.5 650.9,119 652.3,120.4 C653.7,121.8 655.1,125.4 656.5,127.4 C657.9,129.4 659.1,131 660.8,132.2 C662.4,133.4 664.5,133.9 666.4,134.5 C668.3,135.1 670.5,135.2 672,135.9 C673.5,136.7 674.3,136.9 675.5,139 C676.7,141.1 677.9,145.1 679.2,148.6 C680.5,152.1 682.3,157.6 683.5,159.9 C684.7,162.2 685.1,162.7 686.3,162.7 C687.5,162.7 689.1,161.3 690.5,159.9 C691.9,158.5 693.1,155.6 694.7,154.2 C696.4,152.8 698.5,153.8 700.4,151.4 C702.3,149.1 704.4,143.6 706,140.1 C707.6,136.6 708.9,132.7 710.3,130.3 C711.7,127.9 712.9,126.3 714.5,125.5 C716.1,124.7 718.2,125.5 720.1,125.5 C722,125.5 724.1,124.2 725.8,125.5 C727.4,126.8 728.6,131.4 730,133.1 C731.4,134.8 732.8,136.1 734.2,135.9 C735.6,135.8 736.9,132.2 738.5,132.2 C740.1,132.2 742,134.6 744.1,135.9 C746.2,137.2 749,139.4 751,140.3 C753,141.2 754.8,141.3 756.3,141.4 C757.8,141.5 758.9,140.6 760.2,140.9 C761.5,141.2 762.8,142.6 764.1,143.5 C765.4,144.4 766.7,146.2 768,146.1 C769.3,146 770.7,143.9 772,143 C773.3,142.1 774.8,140.9 775.9,140.9 C777,140.9 777.4,143.4 778.5,143 C779.6,142.6 781.1,139.9 782.4,138.3 C783.6,136.7 785.4,134.3 786,133.5" fill="none" stroke="#a862bb" stroke-width="1.05" stroke-linejoin="round"/>
<path d="M59.8,216.1 C60.6,216.8 63.2,219.3 64.7,220.5 C66.2,221.7 67.3,222.6 69,223 C70.7,223.4 73.4,223.5 75,223 C76.6,222.5 77.6,221.5 78.8,220 C80,218.5 80.9,216.4 82,214 C83.1,211.6 84.3,208.3 85.3,205.3 C86.3,202.3 86.4,200.8 88,196.1 C89.6,191.3 92.4,181.9 94.7,176.8 C97,171.7 99.8,167.6 101.7,165.5 C103.6,163.4 104.6,164 106,164.1 C107.4,164.2 108.3,163.9 110.2,166 C112.1,168.1 114.6,172.7 117.2,176.8 C119.8,181 122.9,186.4 125.7,190.9 C128.5,195.4 131.3,200.6 134.1,203.6 C136.9,206.6 139.8,207.9 142.6,209.2 C145.4,210.5 148.2,211.4 151,211.5 C153.8,211.6 156.9,210.8 159.5,210 C162.1,209.2 164.2,208.7 166.6,206.4 C168.9,204.2 171.2,200.7 173.6,196.5 C175.9,192.3 178.3,185.9 180.7,181 C183.1,176.1 186.3,170.7 188,166.9 C189.7,163.2 189,161.2 190.6,158.5 C192.2,155.8 195.6,152.2 197.7,150.8 C199.8,149.4 201.4,149.4 203.3,150 C205.2,150.6 207.1,151.6 209,154.2 C210.9,156.8 212.5,161.3 214.6,165.5 C216.7,169.7 219.1,174.9 221.7,179.6 C224.3,184.3 227.3,190 230.1,193.7 C232.9,197.4 236,200.1 238.6,201.6 C241.2,203.1 243.2,202.8 245.6,202.7 C247.9,202.6 250.1,202.1 252.7,200.8 C255.3,199.5 258.3,196.4 261.1,195.1 C263.9,193.8 266.3,193.4 269.6,193.1 C272.9,192.8 277.6,193.7 280.9,193.1 C284.2,192.5 286.5,191.1 289.3,189.5 C292.1,187.9 295,185.3 297.8,183.8 C300.6,182.3 304.3,180.9 306.3,180.4 C308.3,179.9 308,180.3 310,181 C312,181.7 315.4,182.3 318.5,184.7 C321.6,187 325,192.2 328.3,195.1 C331.6,198 335.1,200.7 338.2,202.2 C341.3,203.7 343.6,204.1 346.7,204.1 C349.8,204.1 353.2,203.5 356.5,202.2 C359.8,200.9 362.9,198.8 366.4,196.5 C369.9,194.2 374.4,190.1 377.7,188.1 C381,186.1 383.5,185.3 386.1,184.7 C388.7,184.1 390.9,183.9 393.2,184.7 C395.5,185.5 397.8,187.1 400.2,189.5 C402.6,191.9 404.7,196.4 407.3,199.3 C409.9,202.2 413,205.4 415.8,207.2 C418.6,209 421.6,210 424.2,210.1 C426.8,210.2 429.5,208.7 431.3,207.8 C433.1,207 433,206.4 435,205 C437,203.6 440.7,200.8 443.5,199.3 C446.3,197.8 449.1,196.9 451.9,196 C454.7,195.1 457.3,194.6 460.4,193.7 C463.5,192.8 467.7,191.1 470.3,190.3 C472.9,189.5 473.3,188.9 475.9,188.9 C478.5,188.9 482.8,190.9 485.8,190.3 C488.9,189.7 491.4,187 494.2,185.2 C497,183.4 499.9,181 502.7,179.6 C505.5,178.2 508.5,177.4 511.1,176.8 C513.7,176.2 516.1,175.8 518.2,176.2 C520.3,176.6 521.9,177.1 523.8,179 C525.7,180.9 527.4,184.1 529.5,187.5 C531.6,190.9 534.1,195.9 536.5,199.3 C538.9,202.7 541.5,205.7 543.6,207.8 C545.7,209.9 547.3,212 549.2,212 C551.1,212 553.1,210.1 554.9,207.8 C556.7,205.5 558.5,201.1 560,198 C561.5,194.9 562,192.1 564,189 C566,185.9 569.6,181.5 571.9,179.6 C574.2,177.7 575.7,177.3 577.6,177.3 C579.5,177.3 581.1,177.8 583.2,179.6 C585.3,181.4 587.9,184.8 590.3,188.1 C592.6,191.4 594.9,195.6 597.3,199.3 C599.6,203.1 602.3,207.7 604.4,210.6 C606.5,213.5 608.4,215.6 610,216.8 C611.6,218 612.6,218.7 614.2,217.7 C615.9,216.7 617.8,213.9 619.9,210.6 C622,207.3 624.5,201.9 626.9,197.9 C629.2,193.9 631.7,189.7 634,186.7 C636.3,183.7 638.6,180.8 640.6,180.1 C642.6,179.4 643.6,180.5 646,182.3 C648.4,184.1 651.8,187.6 654.7,191 C657.6,194.4 660.5,199.3 663.4,202.9 C666.3,206.5 669.1,210.1 672,212.6 C674.9,215.1 678.5,217 680.7,218 C682.9,219 683.2,221 685,218.8 C686.8,216.6 688.9,210.8 691.5,205 C694.1,199.2 697.8,189.2 700.4,184 C703,178.8 705.3,176.1 707.4,174 C709.5,171.9 711,171.2 713.1,171.7 C715.2,172.2 717.5,174.3 720.1,176.8 C722.7,179.3 725.8,183.4 728.6,186.7 C731.4,190 734.1,193.8 737.1,196.6 C740.1,199.4 743.6,201.7 746.9,203.6 C750.2,205.5 754,207.6 756.8,207.8 C759.6,208 761.5,207.6 763.9,205 C766.2,202.4 768.5,197.5 770.9,192.3 C773.2,187.1 775.5,179.7 778,174 C780.5,168.3 784.7,160.7 786,158" fill="none" stroke="#ab64bd" stroke-width="1.1" stroke-linejoin="round"/>
<path d="M59.8,220 C60.2,220.5 61.6,221.6 62.5,223.2 C63.4,224.8 64.3,227.3 65.2,229.7 C66.1,232 67.1,234.8 67.9,237.3 C68.7,239.9 69.2,241.2 70.1,245 C71,248.8 71.8,252.8 73.5,260 C75.2,267.2 78.8,280 80.6,288.3 C82.4,296.6 83.3,303.9 84.5,310 C85.7,316.1 86.5,320.3 87.6,325 C88.7,329.7 89.7,334.5 91,338 C92.3,341.5 94.2,345.5 95.7,345.8 C97.2,346.1 98.5,343.5 99.8,340 C101.1,336.5 101.8,332.7 103.5,325 C105.2,317.3 108.2,303.6 110.2,294 C112.2,284.4 113.7,275.2 115.8,267.2 C117.9,259.2 120.3,251.4 122.9,246 C125.5,240.6 129.2,236.8 131.3,234.7 C133.4,232.6 133.9,233.2 135.6,233.3 C137.2,233.4 139.6,234.5 141.2,235.3 C142.8,236.1 143.8,238.1 145.4,238.1 C147,238.1 149.1,236 151,235.3 C152.9,234.7 154.6,233.8 156.7,234.2 C158.8,234.6 161.7,235.9 163.8,237.6 C165.9,239.3 167.5,241.5 169.4,244.6 C171.3,247.7 172.9,252.6 175,255.9 C177.1,259.2 179.9,262 182.1,264.4 C184.3,266.8 186.6,268.6 188,270 C189.4,271.4 189.3,271.9 190.6,272.8 C191.9,273.7 194,275.3 195.7,275.1 C197.3,274.9 198.8,273.9 200.5,271.4 C202.2,268.9 204.1,264.6 206.2,260.1 C208.3,255.6 211.1,248.6 213.2,244.6 C215.3,240.6 217.2,237.8 218.8,236.2 C220.5,234.5 221.2,234.2 223.1,234.7 C225,235.2 227.5,237.3 230.1,239 C232.7,240.7 236.2,243.2 238.6,244.6 C240.9,246 242.7,247.2 244.2,247.4 C245.7,247.6 246.4,245.3 247.6,245.5 C248.8,245.7 249.8,247.4 251.3,248.3 C252.9,249.2 253.8,250.6 256.9,251.1 C259.9,251.6 265.4,251.1 269.6,251.1 C273.8,251.1 279,250.4 282.3,251.1 C285.6,251.8 287,253.4 289.3,255 C291.6,256.6 294.5,259.5 296.4,260.7 C298.3,261.9 299,262.7 300.6,262.4 C302.2,262.1 304.7,259.8 306.3,258.7 C307.9,257.6 308.2,257.3 310,255.9 C311.8,254.5 314.6,252 317,250.3 C319.4,248.7 322,246.6 324.1,246 C326.2,245.4 327.4,247.2 329.7,246.6 C332,246 335.1,243.3 338.2,242.6 C341.3,241.9 345.1,241.9 348.1,242.6 C351.2,243.3 353.9,245.1 356.5,246.6 C359.1,248.1 361.2,249.9 363.6,251.7 C366,253.5 368,255.8 370.6,257.3 C373.2,258.8 376.8,259.9 379.1,260.7 C381.5,261.5 382.8,263 384.7,262.4 C386.6,261.8 388.3,259.5 390.4,257.3 C392.5,255.1 395,251.4 397.4,249.4 C399.8,247.4 401.7,246 404.5,245.2 C407.3,244.4 411.2,245.1 414.3,244.6 C417.4,244.1 420.5,243 422.8,242.4 C425.1,241.8 426.3,241.2 428.4,241 C430.5,240.8 433.5,240.9 435.5,241.2 C437.5,241.5 438.3,242.3 440.6,242.6 C442.9,242.9 446.3,242.4 449.1,243.2 C451.9,244 454.6,246.2 457.6,247.4 C460.7,248.6 464.3,250.1 467.4,250.3 C470.4,250.5 473.3,248.1 475.9,248.8 C478.5,249.5 480.3,252.4 482.9,254.5 C485.5,256.6 488.6,258.9 491.4,261.5 C494.2,264.1 497.1,267.2 499.9,270 C502.7,272.8 505.9,276.5 508.3,278.5 C510.7,280.5 512.1,282.8 514,282.1 C515.9,281.4 517.7,278.1 519.6,274.2 C521.5,270.3 523.1,264.8 525.2,258.7 C527.3,252.6 530.2,243 532.3,237.6 C534.4,232.2 536.3,228.7 537.9,226.3 C539.5,224 540.2,222.8 541.6,223.5 C543,224.2 544.9,227 546.4,230.5 C547.9,234 549.2,238.7 550.6,244.6 C552,250.5 553.5,258.5 554.9,265.8 C556.3,273.1 557.7,280.6 559.1,288.3 C560.5,296.1 562.1,306.9 563.3,312.3 C564.4,317.7 565.1,318.8 566,320.5 C566.9,322.2 567.9,322.9 568.9,322.4 C569.9,321.9 571.2,320.5 572.2,317.6 C573.2,314.7 573.3,312.9 574.7,305.2 C576.1,297.5 578.5,282.7 580.4,271.4 C582.3,260.1 584.4,247 586,237.6 C587.6,228.2 588.9,222.9 590.3,215 C591.7,207.1 593.1,197.8 594.5,190 C595.9,182.2 597.4,172.6 598.7,168.3 C600,164 601.3,163.9 602.4,164.1 C603.5,164.3 604.2,164.3 605.2,169.7 C606.2,175.1 607.6,187.3 608.6,196.5 C609.6,205.7 610.2,214.9 611.4,225 C612.6,235.1 614.4,245.8 615.6,257.3 C616.8,268.8 617.5,283.2 618.5,294 C619.5,304.8 620.1,315.1 621.3,322.2 C622.5,329.2 624.1,333.5 625.5,336.3 C626.9,339.1 628.3,339.6 629.7,339.1 C631.1,338.6 632.4,338.1 634,333.4 C635.6,328.7 638,318.9 639.6,310.9 C641.2,302.9 642.4,295.4 643.8,285.5 C645.2,275.6 646.6,262.9 648.1,251.7 C649.6,240.4 651.2,227.2 652.5,218 C653.8,208.8 654.5,204 655.8,196.4 C657.1,188.8 658.7,178.7 660.1,172.5 C661.5,166.3 663,162.8 664.4,159.5 C665.8,156.2 667,154.6 668.8,153 C670.6,151.4 673.8,150 675.3,149.8 C676.8,149.6 676.6,149.2 677.5,151.9 C678.4,154.6 679.8,158.9 680.7,166 C681.6,173.1 682.2,185.5 682.9,194.2 C683.6,202.9 684.3,210.4 685,218 C685.7,225.6 686.3,230.2 687.2,240 C688.1,249.8 689.2,265.3 690.5,277.1 C691.8,288.9 693.3,302.4 694.7,310.9 C696.1,319.3 697.7,324 699,327.8 C700.3,331.6 701.2,333.5 702.4,333.5 C703.6,333.5 704.7,332 706,327.8 C707.3,323.6 708.9,316.1 710.3,308.1 C711.7,300.1 712.9,288.4 714.5,279.9 C716.1,271.4 718.2,264.6 720.1,257.3 C722,250 723.9,242.8 725.8,236.2 C727.7,229.6 729.8,223 731.4,217.8 C733,212.6 734,208.8 735.6,205 C737.2,201.2 739.6,197.2 741.3,195.1 C742.9,193 744.1,192.1 745.5,192.3 C746.9,192.6 748.4,194 749.8,196.6 C751.2,199.2 752.6,203.1 754,207.8 C755.4,212.5 757,220 758.2,225 C759.4,230 759.6,231.3 761,237.6 C762.4,243.9 764.6,255.5 766.7,263 C768.8,270.5 771.4,276.8 773.7,282.7 C776.1,288.6 778.8,294.5 780.8,298.2 C782.8,301.9 785.1,303.9 786,305" fill="none" stroke="#ab64bd" stroke-width="1.1" stroke-linejoin="round"/>
<path d="M59.5,293.4 C60.7,294.2 64.2,295.3 66.5,298.2 C68.8,301.1 71.5,306.4 73.5,310.9 C75.5,315.4 77.3,320.5 78.8,325 C80.3,329.5 81.3,333.7 82.5,338 C83.7,342.3 84.9,347.3 86,351 C87.1,354.7 87.9,357.8 89.2,360 C90.5,362.2 92.5,363.8 93.8,364 C95.1,364.2 95.8,363.2 97,361 C98.2,358.8 99.7,354.8 100.9,351 C102.2,347.2 103.3,342.3 104.5,338 C105.7,333.7 106.1,330 108,325 C109.9,320 113.3,312.2 115.8,308 C118.3,303.8 120.6,301.4 122.9,299.6 C125.2,297.8 127.6,297.1 129.9,297.3 C132.2,297.5 134.4,299.4 137,301 C139.6,302.6 142.6,304.9 145.4,306.7 C148.2,308.5 151.1,310.3 153.9,311.7 C156.7,313.1 159.5,313.6 162.3,315.1 C165.1,316.6 168,318.7 170.8,320.8 C173.6,322.9 176.9,325.7 179.3,327.8 C181.7,329.9 183.1,331.9 185,333.4 C186.9,334.9 188.9,335.9 190.6,336.8 C192.2,337.8 193.5,339.1 194.9,339.1 C196.3,339.1 197.5,338.9 199.1,336.8 C200.7,334.7 202.6,330 204.7,326.4 C206.8,322.8 209,317.7 211.8,315.1 C214.6,312.5 218.4,311.1 221.7,310.9 C225,310.7 228.2,312.8 231.5,313.7 C234.8,314.6 238.3,315.8 241.4,316 C244.5,316.2 246.6,315.1 249.9,315.1 C253.2,315.1 257.4,315.7 261.1,316 C264.9,316.3 268.6,317.1 272.4,317.1 C276.2,317.1 280.2,315.7 283.7,316 C287.2,316.3 290.8,318 293.6,318.8 C296.4,319.6 298.2,321.1 300.6,320.8 C303,320.5 305.8,317.9 307.7,317.1 C309.6,316.3 310.2,316.5 312,316 C313.8,315.5 316,314.7 318.5,314.3 C321,313.9 324.1,313.9 326.9,313.7 C329.7,313.5 332.6,313.6 335.4,313.1 C338.2,312.6 341,311 343.8,310.9 C346.6,310.8 349.2,311.6 352.3,312.3 C355.4,313 358.7,314.3 362.2,315.1 C365.7,315.9 370.4,316.2 373.5,317.1 C376.6,318.1 378.5,319.8 380.5,320.8 C382.5,321.8 383.7,323.5 385.6,323 C387.5,322.5 389.6,320.1 391.8,317.9 C394,315.6 396.5,311.4 398.8,309.5 C401.1,307.6 403.3,307 405.9,306.7 C408.5,306.4 411.5,307.2 414.3,307.5 C417.1,307.8 419.7,308.4 422.8,308.6 C425.9,308.8 429.2,308.4 432.7,308.9 C436.1,309.4 440.3,310.7 443.5,311.4 C446.7,312.1 448.6,312.7 451.9,313.1 C455.2,313.5 459.4,313.4 463.2,313.7 C467,314 470.7,314.6 474.5,315.1 C478.3,315.6 482.5,315.4 485.8,316.5 C489.1,317.6 491.6,319.5 494.2,321.6 C496.8,323.7 499.2,326.8 501.3,329.2 C503.4,331.6 505.2,334.1 506.9,336.3 C508.6,338.5 510.5,341.3 511.7,342.5 C512.9,343.7 512.9,344.8 514,343.3 C515.1,341.8 516.6,337.9 518.2,333.4 C519.8,328.9 521.9,321.7 523.8,316.5 C525.7,311.3 527.6,305.6 529.5,302.4 C531.4,299.2 533,298.1 535.1,297.3 C537.2,296.5 540.1,296.2 542.2,297.3 C544.3,298.4 546.2,300.4 547.8,303.8 C549.4,307.2 550.6,312.3 552,318 C553.4,323.7 555,331.7 556.3,338 C557.6,344.3 558.9,351.6 560,356 C561.1,360.4 562,362.6 563,364.5 C564,366.4 565.1,367.3 566.3,367.3 C567.5,367.3 568.9,366.8 570.2,364.4 C571.5,362 572.6,358.5 574.1,352.7 C575.6,346.9 577.5,338.1 579,329.3 C580.5,320.5 581.1,309.7 583.2,299.6 C585.3,289.5 589.4,275.4 591.7,268.6 C594.1,261.8 595.7,260.6 597.3,258.7 C598.9,256.8 600.1,256.4 601.5,257.3 C602.9,258.2 604.4,259.2 605.8,264.4 C607.2,269.6 608.6,279.6 610,288.3 C611.4,297 612.8,307.1 614.2,316.5 C615.6,325.9 617.5,338.1 618.5,345 C619.5,351.9 619.6,353.5 620.5,358 C621.4,362.5 622.7,368.7 623.9,372.2 C625.1,375.7 626.5,378.5 627.8,379 C629.1,379.5 630.4,378.8 631.7,375.1 C633,371.4 634.1,363.9 635.6,356.6 C637.1,349.3 638.9,339.3 640.5,331.2 C642.1,323.1 643.2,316.7 645.2,308.1 C647.2,299.6 649.9,288.4 652.3,279.9 C654.6,271.4 656.9,263.2 659.3,257.3 C661.6,251.4 664.3,247.3 666.4,244.6 C668.5,241.9 670.1,241 672,241 C673.9,241 676.1,242.3 677.7,244.6 C679.4,246.8 680.8,250.9 681.9,254.5 C683,258.1 683.5,259.4 684.5,266 C685.5,272.6 686.5,283.7 687.7,294 C688.9,304.3 690.9,320.1 691.9,327.8 C692.9,335.5 693.1,335.6 693.8,340 C694.4,344.4 695,349.8 695.8,354.2 C696.6,358.6 697.5,364 698.5,366.7 C699.5,369.4 700.9,370.6 702.1,370.3 C703.3,370 704.4,368.9 705.6,365 C706.8,361.1 707.9,353.7 709.2,347.1 C710.6,340.6 712.6,331.4 713.7,325.7 C714.8,320 714.9,318.3 716,313 C717.1,307.7 718.5,299.3 720.1,294 C721.7,288.7 723.7,284.1 725.8,281.3 C727.9,278.5 730.4,277.6 732.8,277.1 C735.1,276.6 737.5,277.1 739.9,278.5 C742.2,279.9 744.5,282.4 746.9,285.5 C749.2,288.6 751.6,292.3 754,296.8 C756.4,301.3 758.9,307.1 761,312.3 C763.1,317.5 765.2,323.7 766.7,327.8 C768.2,331.9 768.9,334.1 770,337 C771.1,339.9 771.9,342.4 773.4,345.3 C774.9,348.2 777.3,351.7 778.8,354.2 C780.3,356.7 781.1,359.4 782.3,360.5 C783.5,361.6 785.4,360.9 786,361" fill="none" stroke="#ab64bd" stroke-width="1.1" stroke-linejoin="round"/>
</g>
<rect x="549" y="346.3" width="236" height="35.6" fill="rgb(248,114,133)" fill-opacity="0.35"/>
<polyline points="60,353.4 72.5,353.4 72.5,351.8 566,351.8 566,353.4 634,353.4 634,355.2 720,355.2 720,357 785,357" fill="none" stroke="#ff4848" stroke-width="1.2"/>
<rect x="60.9" y="352.4" width="1.3" height="2" fill="#ff4848"/>
<rect x="84.5" y="350.8" width="1.3" height="2" fill="#ff4848"/>
<rect x="107.5" y="350.8" width="1.3" height="2" fill="#ff4848"/>
<rect x="130.4" y="350.8" width="1.3" height="2" fill="#ff4848"/>
<rect x="151.3" y="350.8" width="1.3" height="2" fill="#ff4848"/>
<rect x="172.8" y="350.8" width="1.3" height="2" fill="#ff4848"/>
<rect x="193.5" y="350.8" width="1.3" height="2" fill="#ff4848"/>
<rect x="214.3" y="350.8" width="1.3" height="2" fill="#ff4848"/>
<rect x="235.8" y="350.8" width="1.3" height="2" fill="#ff4848"/>
<rect x="257.2" y="350.8" width="1.3" height="2" fill="#ff4848"/>
<rect x="278.4" y="350.8" width="1.3" height="2" fill="#ff4848"/>
<rect x="300.4" y="350.8" width="1.3" height="2" fill="#ff4848"/>
<rect x="321.4" y="350.8" width="1.3" height="2" fill="#ff4848"/>
<rect x="343.1" y="350.8" width="1.3" height="2" fill="#ff4848"/>
<rect x="364.2" y="350.8" width="1.3" height="2" fill="#ff4848"/>
<rect x="385.4" y="350.8" width="1.3" height="2" fill="#ff4848"/>
<rect x="406.4" y="350.8" width="1.3" height="2" fill="#ff4848"/>
<rect x="427.9" y="350.8" width="1.3" height="2" fill="#ff4848"/>
<rect x="448.4" y="350.8" width="1.3" height="2" fill="#ff4848"/>
<rect x="470.9" y="350.8" width="1.3" height="2" fill="#ff4848"/>
<rect x="492.4" y="350.8" width="1.3" height="2" fill="#ff4848"/>
<rect x="513.4" y="350.8" width="1.3" height="2" fill="#ff4848"/>
<rect x="534.4" y="350.8" width="1.3" height="2" fill="#ff4848"/>
<rect x="556" y="350.8" width="1.3" height="2" fill="#ff4848"/>
<rect x="577.1" y="352.4" width="1.3" height="2" fill="#ff4848"/>
<rect x="598.4" y="352.4" width="1.3" height="2" fill="#ff4848"/>
<rect x="619.4" y="352.4" width="1.3" height="2" fill="#ff4848"/>
<rect x="641.8" y="354.2" width="1.3" height="2" fill="#ff4848"/>
<rect x="663.1" y="354.2" width="1.3" height="2" fill="#ff4848"/>
<rect x="684" y="354.2" width="1.3" height="2" fill="#ff4848"/>
<rect x="705" y="354.2" width="1.3" height="2" fill="#ff4848"/>
<rect x="726.8" y="356" width="1.3" height="2" fill="#ff4848"/>
<rect x="747.8" y="356" width="1.3" height="2" fill="#ff4848"/>
<rect x="768.6" y="356" width="1.3" height="2" fill="#ff4848"/>
<text x="61.5" y="369.6" font-size="11.5" fill="#ff4444" stroke="#ff4444" stroke-width="0.25" text-anchor="middle" textLength="10.2" lengthAdjust="spacingAndGlyphs">95</text>
<text x="85.2" y="368" font-size="11.5" fill="#ff4444" stroke="#ff4444" stroke-width="0.25" text-anchor="middle" textLength="10.2" lengthAdjust="spacingAndGlyphs">96</text>
<text x="108.2" y="368" font-size="11.5" fill="#ff4444" stroke="#ff4444" stroke-width="0.25" text-anchor="middle" textLength="10.2" lengthAdjust="spacingAndGlyphs">96</text>
<text x="131.1" y="368" font-size="11.5" fill="#ff4444" stroke="#ff4444" stroke-width="0.25" text-anchor="middle" textLength="10.2" lengthAdjust="spacingAndGlyphs">96</text>
<text x="152" y="368" font-size="11.5" fill="#ff4444" stroke="#ff4444" stroke-width="0.25" text-anchor="middle" textLength="10.2" lengthAdjust="spacingAndGlyphs">96</text>
<text x="173.4" y="368" font-size="11.5" fill="#ff4444" stroke="#ff4444" stroke-width="0.25" text-anchor="middle" textLength="10.2" lengthAdjust="spacingAndGlyphs">96</text>
<text x="194.2" y="368" font-size="11.5" fill="#ff4444" stroke="#ff4444" stroke-width="0.25" text-anchor="middle" textLength="10.2" lengthAdjust="spacingAndGlyphs">96</text>
<text x="215" y="368" font-size="11.5" fill="#ff4444" stroke="#ff4444" stroke-width="0.25" text-anchor="middle" textLength="10.2" lengthAdjust="spacingAndGlyphs">96</text>
<text x="236.5" y="368" font-size="11.5" fill="#ff4444" stroke="#ff4444" stroke-width="0.25" text-anchor="middle" textLength="10.2" lengthAdjust="spacingAndGlyphs">96</text>
<text x="257.8" y="368" font-size="11.5" fill="#ff4444" stroke="#ff4444" stroke-width="0.25" text-anchor="middle" textLength="10.2" lengthAdjust="spacingAndGlyphs">96</text>
<text x="279" y="368" font-size="11.5" fill="#ff4444" stroke="#ff4444" stroke-width="0.25" text-anchor="middle" textLength="10.2" lengthAdjust="spacingAndGlyphs">96</text>
<text x="301" y="368" font-size="11.5" fill="#ff4444" stroke="#ff4444" stroke-width="0.25" text-anchor="middle" textLength="10.2" lengthAdjust="spacingAndGlyphs">96</text>
<text x="322" y="368" font-size="11.5" fill="#ff4444" stroke="#ff4444" stroke-width="0.25" text-anchor="middle" textLength="10.2" lengthAdjust="spacingAndGlyphs">96</text>
<text x="343.7" y="368" font-size="11.5" fill="#ff4444" stroke="#ff4444" stroke-width="0.25" text-anchor="middle" textLength="10.2" lengthAdjust="spacingAndGlyphs">96</text>
<text x="364.8" y="368" font-size="11.5" fill="#ff4444" stroke="#ff4444" stroke-width="0.25" text-anchor="middle" textLength="10.2" lengthAdjust="spacingAndGlyphs">96</text>
<text x="386" y="368" font-size="11.5" fill="#ff4444" stroke="#ff4444" stroke-width="0.25" text-anchor="middle" textLength="10.2" lengthAdjust="spacingAndGlyphs">96</text>
<text x="407" y="368" font-size="11.5" fill="#ff4444" stroke="#ff4444" stroke-width="0.25" text-anchor="middle" textLength="10.2" lengthAdjust="spacingAndGlyphs">96</text>
<text x="428.5" y="368" font-size="11.5" fill="#ff4444" stroke="#ff4444" stroke-width="0.25" text-anchor="middle" textLength="10.2" lengthAdjust="spacingAndGlyphs">96</text>
<text x="449" y="368" font-size="11.5" fill="#ff4444" stroke="#ff4444" stroke-width="0.25" text-anchor="middle" textLength="10.2" lengthAdjust="spacingAndGlyphs">96</text>
<text x="471.5" y="368" font-size="11.5" fill="#ff4444" stroke="#ff4444" stroke-width="0.25" text-anchor="middle" textLength="10.2" lengthAdjust="spacingAndGlyphs">96</text>
<text x="493" y="368" font-size="11.5" fill="#ff4444" stroke="#ff4444" stroke-width="0.25" text-anchor="middle" textLength="10.2" lengthAdjust="spacingAndGlyphs">96</text>
<text x="514" y="368" font-size="11.5" fill="#ff4444" stroke="#ff4444" stroke-width="0.25" text-anchor="middle" textLength="10.2" lengthAdjust="spacingAndGlyphs">96</text>
<text x="535" y="368" font-size="11.5" fill="#ff4444" stroke="#ff4444" stroke-width="0.25" text-anchor="middle" textLength="10.2" lengthAdjust="spacingAndGlyphs">96</text>
<text x="556.6" y="368" font-size="11.5" fill="#ff4444" stroke="#ff4444" stroke-width="0.25" text-anchor="middle" textLength="10.2" lengthAdjust="spacingAndGlyphs">96</text>
<text x="577.7" y="369.6" font-size="11.5" fill="#ff4444" stroke="#ff4444" stroke-width="0.25" text-anchor="middle" textLength="10.2" lengthAdjust="spacingAndGlyphs">95</text>
<text x="599" y="369.6" font-size="11.5" fill="#ff4444" stroke="#ff4444" stroke-width="0.25" text-anchor="middle" textLength="10.2" lengthAdjust="spacingAndGlyphs">95</text>
<text x="620" y="369.6" font-size="11.5" fill="#ff4444" stroke="#ff4444" stroke-width="0.25" text-anchor="middle" textLength="10.2" lengthAdjust="spacingAndGlyphs">95</text>
<text x="642.4" y="371.4" font-size="11.5" fill="#ff4444" stroke="#ff4444" stroke-width="0.25" text-anchor="middle" textLength="10.2" lengthAdjust="spacingAndGlyphs">94</text>
<text x="663.7" y="371.4" font-size="11.5" fill="#ff4444" stroke="#ff4444" stroke-width="0.25" text-anchor="middle" textLength="10.2" lengthAdjust="spacingAndGlyphs">94</text>
<text x="684.6" y="371.4" font-size="11.5" fill="#ff4444" stroke="#ff4444" stroke-width="0.25" text-anchor="middle" textLength="10.2" lengthAdjust="spacingAndGlyphs">94</text>
<text x="705.6" y="371.4" font-size="11.5" fill="#ff4444" stroke="#ff4444" stroke-width="0.25" text-anchor="middle" textLength="10.2" lengthAdjust="spacingAndGlyphs">94</text>
<text x="727.4" y="373.2" font-size="11.5" fill="#ff4444" stroke="#ff4444" stroke-width="0.25" text-anchor="middle" textLength="10.2" lengthAdjust="spacingAndGlyphs">93</text>
<text x="748.4" y="373.2" font-size="11.5" fill="#ff4444" stroke="#ff4444" stroke-width="0.25" text-anchor="middle" textLength="10.2" lengthAdjust="spacingAndGlyphs">93</text>
<text x="769.3" y="373.2" font-size="11.5" fill="#ff4444" stroke="#ff4444" stroke-width="0.25" text-anchor="middle" textLength="10.2" lengthAdjust="spacingAndGlyphs">93</text>
<polyline points="59.9,403.6 62.5,402.9 63.7,396.6 65,385.1 66.9,385.7 68.8,389.6 70.7,395.3 73.9,401 77.1,403.9 82.2,404.2 87.3,402.9 90.5,401.7 91.8,394 93,389.6 94.9,389.2 96.9,392.1 98.8,395 102.6,399.7 106.4,402.3 111.5,402.9 116.6,401.9 119.8,401 121.1,394 122.3,388.9 124.2,388.7 126.2,391.5 128.7,395.3 131.9,400.4 135.7,403.2 140.8,403.6 147.2,402.3 150.4,401 151.6,394 152.9,387 154.8,386.4 156.7,388.9 159.5,396.6 163.3,402.7 167.7,404.2 172.8,403.9 177.9,401.9 181.8,400.4 182.4,392.1 184.3,385.4 186.2,387.6 188.8,395.3 191.9,399.7 195.8,403.9 200.9,404.2 206,402.9 211.1,401 212.3,392.7 213.9,384.5 215.9,386.4 218.7,395.3 222.5,401 226.3,405.2 231.4,404.5 236.5,405.5 239.7,401.7 242.9,397.8 244.2,387.6 245.4,381.3 247.4,385.1 249.3,393.4 251.8,399.1 253.8,402.3 257.6,405.2 262.7,403.9 267.8,402.3 273.6,400.6 274.8,391.5 276.5,382.8 278.3,385.7 280.6,394.6 283.8,400.4 286.9,404.2 292,403.9 297.1,402.7 302.2,401 303.5,391.5 305,382.8 306.7,385.7 309.2,394 312.4,400.1 315.6,404.2 321.3,403.9 326.4,402.7 332.8,401 334.7,388.9 336.2,381.9 338.5,387 340.4,395.3 343,399.1 346.2,403.9 351.4,404.2 357.7,402.7 363.5,401 364.7,391.5 366.7,381.9 368.6,385.7 371.1,394.6 374.3,401 377.5,404.2 383.2,403.9 388.3,402.9 392.1,401.7 393.4,390.2 395.3,381.9 397.2,385.7 399.8,394.6 403,400.4 406.8,405.5 412.5,404.2 417.6,402.9 421.4,401 422.7,388.9 424.2,381.9 426.5,385.7 429.1,394 432.9,402.9 435.4,405.5 439.3,404.8 445.1,403.2 450.2,401.7 451.7,391.5 453.4,381.5 455.3,385.7 457.8,395.9 460.4,401 463.6,405.2 468,405.2 473.1,403.6 478.9,401.7 480.5,390.2 482.3,381.3 483.9,385.7 486.5,395.3 489,401 492.9,405.2 497.3,405.2 502.4,403.6 506.9,401.7 508.8,391.5 510.3,382.5 512,386.4 514.5,395.3 517.1,400.4 520.3,403.9 525.4,404.5 530.4,403.9 533.6,402.3 534.9,391.5 536.2,382 538.1,385 539.5,390.2 541.4,397.8 543.9,402.9 547.1,406.5 552.2,405.5 556.7,403.9 559.8,402.3 560.5,392.7 562,383.2 564,384.5 566.2,392.7 568.8,399.1 571.9,403.6 575.8,404.2 579.6,403.6 581.1,392.7 582.8,383.2 584.7,384.5 586.6,392.7 589.1,400.4 592.3,406.1 594.9,408.3 600,407.4 605.1,404.8 606.3,394 607.9,386.1 610.2,388.9 612.1,395.3 615.3,401 617.8,404.2 620.4,406.1 622.6,402 624.8,401.3 626.1,392.1 628,391.2 630,392.3 631.9,397.8 635.1,402.3 638.3,404.5 642.7,403.6 644,396.6 645.9,392.4 648.5,392.5 650.4,397.2 653.6,401 656.8,402.9 660.6,403.6 665.7,402.7 670.1,400.6 671.4,394 673.3,391.2 675.2,392.1 677.1,394.6 680.3,398.5 683.5,401.4 688.6,401.9 693.7,401.4 695.6,399.1 696.9,393.4 698.2,392.5 700.7,394.6 703.9,397.2 707.7,399.7 711.5,401 715.4,401.4 716.6,397.8 717.9,392.5 720.4,392.1 723,395.9 726.9,400.3 731,402.4 736.3,402.7 741.5,401.9 746.1,400.8 747.2,394.6 748.5,388.5 750.8,389.9 753.4,394.6 758.1,400.8 762.3,403.4 767.5,403.4 772.7,402.4 775.3,401.4 776.4,394.6 777.4,388.9 779.5,389.4 782.1,394.1 786,398.5" fill="none" stroke="#2a2a2a" stroke-width="1.2" stroke-linejoin="round"/>
<text x="213.8" y="109.2" font-size="8.5" fill="#8a8a8a" textLength="13" lengthAdjust="spacingAndGlyphs">Hyp</text>
<text x="213.8" y="170.7" font-size="8.5" fill="#8a8a8a" textLength="13" lengthAdjust="spacingAndGlyphs">Hyp</text>
<text x="213.8" y="231.5" font-size="8.5" fill="#8a8a8a" textLength="13" lengthAdjust="spacingAndGlyphs">Hyp</text>
<text x="213.8" y="293.5" font-size="8.5" fill="#8a8a8a" textLength="13" lengthAdjust="spacingAndGlyphs">Hyp</text>
<text x="550.7" y="355.5" font-size="8.5" fill="#958a92" textLength="18.6" lengthAdjust="spacingAndGlyphs">Desat</text>
<text x="245.5" y="424.8" font-size="8.5" fill="#8cc4a4" text-anchor="middle" textLength="12.8" lengthAdjust="spacingAndGlyphs">601</text>
<text x="433" y="424.8" font-size="8.5" fill="#8cc4a4" text-anchor="middle" textLength="12.8" lengthAdjust="spacingAndGlyphs">601</text>
<text x="620.6" y="424.8" font-size="8.5" fill="#8cc4a4" text-anchor="middle" textLength="12.8" lengthAdjust="spacingAndGlyphs">602</text>
</g>
</svg>
<div class="cap"><span>Nasal pressure (NPRE), naso-oral thermistor (N/O), thoracic effort (THOR), abdominal effort (ABD), oxygen saturation (SpO2), plethysmography</span><span>(Pleth)</span></div>
</body></html>
